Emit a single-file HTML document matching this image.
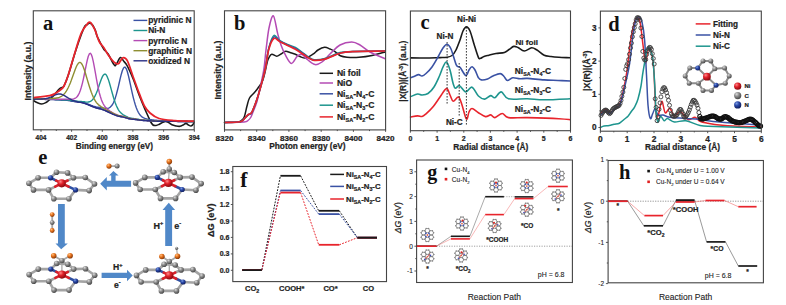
<!DOCTYPE html>
<html><head><meta charset="utf-8">
<style>
html,body{margin:0;padding:0;background:#fff;width:786px;height:305px;overflow:hidden}
svg{display:block}
text{font-family:"Liberation Sans",sans-serif;font-weight:bold;fill:#222;stroke:#222;stroke-width:0.22px}
text.L{font-family:"Liberation Serif",serif;font-weight:bold;fill:#111;font-size:20.5px;stroke:none}
</style></head><body>
<svg width="786" height="305" viewBox="0 0 786 305">
<defs>
<radialGradient id="gG" cx="35%" cy="30%" r="70%"><stop offset="0" stop-color="#dcdcdc"/><stop offset="0.45" stop-color="#8e8e8e"/><stop offset="1" stop-color="#4a4a4a"/></radialGradient>
<radialGradient id="gR" cx="35%" cy="30%" r="70%"><stop offset="0" stop-color="#ff8a8a"/><stop offset="0.45" stop-color="#e0202a"/><stop offset="1" stop-color="#8a0a10"/></radialGradient>
<radialGradient id="gB" cx="35%" cy="30%" r="70%"><stop offset="0" stop-color="#7a9ae0"/><stop offset="0.45" stop-color="#2a48a8"/><stop offset="1" stop-color="#101f60"/></radialGradient>
<radialGradient id="gO" cx="35%" cy="30%" r="70%"><stop offset="0" stop-color="#ffc080"/><stop offset="0.45" stop-color="#e8741e"/><stop offset="1" stop-color="#8a3a08"/></radialGradient>
</defs>
<g fill="none" stroke-width="1.3" stroke-linejoin="round">
<path d="M33.3,100.5 C33.9,100.8 35.6,101.9 37.0,102.5 C38.4,103.1 40.3,104.0 41.8,104.0 C43.3,104.0 44.7,103.2 46.0,102.5 C47.3,101.8 48.1,101.0 49.6,99.6 C51.1,98.2 53.4,95.8 55.0,94.0 C56.6,92.2 58.3,89.9 59.5,88.8 C60.7,87.7 61.2,88.0 62.0,87.5 C62.8,87.0 63.0,88.1 64.0,86.0 C65.0,83.9 66.4,80.8 68.3,75.0 C70.2,69.2 73.4,57.8 75.6,51.0 C77.8,44.2 79.9,38.2 81.5,34.0 C83.1,29.8 84.0,27.6 85.0,26.0 C86.0,24.4 86.5,25.0 87.4,24.5 C88.3,24.0 89.2,22.2 90.4,23.0 C91.6,23.8 93.7,26.8 94.8,29.0 C95.9,31.2 96.3,34.1 97.0,36.0 C97.7,37.9 98.1,38.3 99.2,40.5 C100.3,42.7 102.2,46.8 103.7,49.0 C105.2,51.2 106.4,51.4 108.1,54.0 C109.8,56.6 112.7,62.8 114.0,64.6 C115.3,66.4 114.9,66.0 116.0,64.8 C117.1,63.6 119.1,58.0 120.4,57.5 C121.7,57.0 122.8,60.1 124.0,61.5 C125.2,62.9 125.8,63.1 127.3,66.0 C128.8,68.9 131.2,74.2 133.2,79.0 C135.2,83.8 137.2,90.2 139.1,95.0 C141.0,99.8 142.9,104.5 144.4,108.0 C145.9,111.5 147.0,113.8 148.0,116.0 C149.0,118.2 149.7,120.0 150.5,121.5 C151.3,123.0 152.1,124.3 153.0,125.0 C153.9,125.7 155.0,125.6 156.0,125.5 C157.0,125.4 157.8,125.0 159.0,124.4 C160.2,123.9 161.8,122.7 163.0,122.2 C164.2,121.7 165.3,121.4 166.5,121.6 C167.7,121.8 169.0,122.9 170.0,123.5 C171.0,124.1 171.7,124.7 172.7,125.1 C173.7,125.5 174.8,125.8 176.0,126.0 C177.2,126.2 178.8,126.5 180.0,126.3 C181.2,126.1 182.0,125.5 183.0,125.0 C184.0,124.5 185.1,123.4 186.0,123.4 C186.9,123.4 187.7,124.6 188.5,125.0 C189.3,125.4 190.2,126.1 191.0,126.0 C191.8,125.9 192.5,125.2 193.0,124.5 C193.5,123.8 194.0,122.4 194.2,122.0" stroke="#1a1a1a" stroke-width="1.6"/>
<path d="M33.3,99.3 L34.3,99.3 L35.3,99.3 L36.3,99.3 L37.3,99.3 L38.3,99.4 L39.3,99.4 L40.3,99.4 L41.3,99.4 L42.3,99.4 L43.3,99.4 L44.3,99.4 L45.3,99.5 L46.3,99.5 L47.3,99.5 L48.3,99.5 L49.3,99.5 L50.3,99.5 L51.3,99.5 L52.3,99.6 L53.3,99.6 L54.3,99.6 L55.3,99.7 L56.3,99.7 L57.3,99.8 L58.3,99.8 L59.3,99.9 L60.3,99.9 L61.3,100.0 L62.3,100.0 L63.3,100.1 L64.3,100.1 L65.3,100.1 L66.3,100.2 L67.3,100.3 L68.3,100.5 L69.3,100.6 L70.3,100.8 L71.3,101.0 L72.3,101.2 L73.3,101.4 L74.3,101.5 L75.3,101.7 L76.3,101.9 L77.3,102.1 L78.3,102.2 L79.3,102.3 L80.3,102.4 L81.3,102.6 L82.3,102.8 L83.3,103.0 L84.3,103.3 L85.3,103.7 L86.3,104.0 L87.3,104.4 L88.3,104.8 L89.3,105.3 L90.3,105.7 L91.3,106.1 L92.3,106.5 L93.3,106.9 L94.3,107.3 L95.3,107.6 L96.3,108.0 L97.3,108.2 L98.3,108.5 L99.3,108.7 L100.3,108.9 L101.3,109.2 L102.3,109.5 L103.3,109.8 L104.3,110.2 L105.3,110.6 L106.3,111.1 L107.3,111.5 L108.3,112.0 L109.3,112.5 L110.3,112.9 L111.3,113.4 L112.3,113.8 L113.3,114.3 L114.3,114.7 L115.3,115.1 L116.3,115.5 L117.3,115.8 L118.3,116.1 L119.3,116.4 L120.3,116.5 L121.3,116.7 L122.3,116.9 L123.3,117.1 L124.3,117.4 L125.3,117.7 L126.3,117.9 L127.3,118.2 L128.3,118.5 L129.3,118.7 L130.3,118.9 L131.3,119.1 L132.3,119.2 L133.3,119.3 L134.3,119.4 L135.3,119.5 L136.3,119.6 L137.3,119.7 L138.3,119.9 L139.3,120.0 L140.3,120.1 L141.3,120.3 L142.3,120.4 L143.3,120.5 L144.3,120.6 L145.3,120.6 L146.3,120.6 L147.3,120.7 L148.3,120.7 L149.3,120.8 L150.3,120.8 L151.3,120.9 L152.3,120.9 L153.3,121.0 L154.3,121.1 L155.3,121.1 L156.3,121.2 L157.3,121.2 L158.3,121.2 L159.3,121.3 L160.3,121.3 L161.3,121.3 L162.3,121.3 L163.3,121.3 L164.3,121.3 L165.3,121.3 L166.3,121.3 L167.3,121.3 L168.3,121.4 L169.3,121.4 L170.3,121.4 L171.3,121.4 L172.3,121.4 L173.3,121.4 L174.3,121.4 L175.3,121.4 L176.3,121.4 L177.3,121.5 L178.3,121.5 L179.3,121.5 L180.3,121.5 L181.3,121.5 L182.3,121.5 L183.3,121.5 L184.3,121.5 L185.3,121.5 L186.3,121.5 L187.3,121.6 L188.3,121.6 L189.3,121.6 L190.3,121.6 L191.3,121.6 L192.3,121.6 L193.3,121.6 L194.2,121.6" stroke="#2b2f85" stroke-width="1.4"/>
<path d="M33.3,99.2 L34.3,99.2 L35.3,99.2 L36.3,99.2 L37.3,99.2 L38.3,99.2 L39.3,99.2 L40.3,99.3 L41.3,99.3 L42.3,99.3 L43.3,99.3 L44.3,99.3 L45.3,99.3 L46.3,99.3 L47.3,99.3 L48.3,99.3 L49.3,99.3 L50.3,99.4 L51.3,99.4 L52.3,99.4 L53.3,99.4 L54.3,99.5 L55.3,99.5 L56.3,99.6 L57.3,99.6 L58.3,99.6 L59.3,99.7 L60.3,99.7 L61.3,99.8 L62.3,99.8 L63.3,99.8 L64.3,99.9 L65.3,99.9 L66.3,100.0 L67.3,100.1 L68.3,100.2 L69.3,100.4 L70.3,100.5 L71.3,100.7 L72.3,100.9 L73.3,101.0 L74.3,101.2 L75.3,101.4 L76.3,101.5 L77.3,101.7 L78.3,101.8 L79.3,101.9 L80.3,102.0 L81.3,102.1 L82.3,102.3 L83.3,102.5 L84.3,102.8 L85.3,103.1 L86.3,103.5 L87.3,103.8 L88.3,104.2 L89.3,104.6 L90.3,105.0 L91.3,105.4 L92.3,105.7 L93.3,106.1 L94.3,106.4 L95.3,106.7 L96.3,107.0 L97.3,107.2 L98.3,107.3 L99.3,107.4 L100.3,107.6 L101.3,107.7 L102.3,107.9 L103.3,108.1 L104.3,108.2 L105.3,108.4 L106.3,108.4 L107.3,108.4 L108.3,108.2 L109.3,107.8 L110.3,107.1 L111.3,106.1 L112.3,104.8 L113.3,103.0 L114.3,100.7 L115.3,97.9 L116.3,94.6 L117.3,90.8 L118.3,86.8 L119.3,82.5 L120.3,78.2 L121.3,74.2 L122.3,70.8 L123.3,68.4 L124.3,67.1 L125.3,67.3 L126.3,68.8 L127.3,71.5 L128.3,75.2 L129.3,79.5 L130.3,84.2 L131.3,88.9 L132.3,93.4 L133.3,97.6 L134.3,101.4 L135.3,104.8 L136.3,107.8 L137.3,110.2 L138.3,112.3 L139.3,113.9 L140.3,115.3 L141.3,116.3 L142.3,117.1 L143.3,117.7 L144.3,118.2 L145.3,118.6 L146.3,118.8 L147.3,119.1 L148.3,119.3 L149.3,119.4 L150.3,119.6 L151.3,119.7 L152.3,119.9 L153.3,120.0 L154.3,120.1 L155.3,120.2 L156.3,120.3 L157.3,120.4 L158.3,120.5 L159.3,120.6 L160.3,120.6 L161.3,120.7 L162.3,120.7 L163.3,120.8 L164.3,120.8 L165.3,120.8 L166.3,120.9 L167.3,120.9 L168.3,120.9 L169.3,120.9 L170.3,121.0 L171.3,121.0 L172.3,121.0 L173.3,121.1 L174.3,121.1 L175.3,121.1 L176.3,121.1 L177.3,121.1 L178.3,121.2 L179.3,121.2 L180.3,121.2 L181.3,121.2 L182.3,121.2 L183.3,121.3 L184.3,121.3 L185.3,121.3 L186.3,121.3 L187.3,121.3 L188.3,121.4 L189.3,121.4 L190.3,121.4 L191.3,121.4 L192.3,121.4 L193.3,121.4 L194.2,121.4" stroke="#3a52a4" stroke-width="1.4"/>
<path d="M33.3,99.2 L34.3,99.2 L35.3,99.2 L36.3,99.2 L37.3,99.2 L38.3,99.2 L39.3,99.2 L40.3,99.2 L41.3,99.2 L42.3,99.2 L43.3,99.3 L44.3,99.3 L45.3,99.3 L46.3,99.3 L47.3,99.3 L48.3,99.3 L49.3,99.3 L50.3,99.3 L51.3,99.3 L52.3,99.3 L53.3,99.4 L54.3,99.4 L55.3,99.4 L56.3,99.5 L57.3,99.5 L58.3,99.5 L59.3,99.6 L60.3,99.6 L61.3,99.6 L62.3,99.7 L63.3,99.7 L64.3,99.7 L65.3,99.7 L66.3,99.8 L67.3,99.9 L68.3,100.0 L69.3,100.1 L70.3,100.3 L71.3,100.4 L72.3,100.6 L73.3,100.7 L74.3,100.9 L75.3,101.0 L76.3,101.2 L77.3,101.3 L78.3,101.4 L79.3,101.4 L80.3,101.5 L81.3,101.5 L82.3,101.6 L83.3,101.7 L84.3,101.8 L85.3,102.0 L86.3,102.1 L87.3,102.1 L88.3,102.0 L89.3,101.8 L90.3,101.4 L91.3,100.8 L92.3,100.0 L93.3,98.8 L94.3,97.3 L95.3,95.4 L96.3,93.2 L97.3,90.7 L98.3,87.9 L99.3,84.9 L100.3,82.0 L101.3,79.2 L102.3,76.9 L103.3,75.2 L104.3,74.2 L105.3,74.1 L106.3,75.0 L107.3,76.9 L108.3,79.4 L109.3,82.5 L110.3,86.0 L111.3,89.6 L112.3,93.2 L113.3,96.7 L114.3,100.0 L115.3,102.9 L116.3,105.5 L117.3,107.7 L118.3,109.6 L119.3,111.1 L120.3,112.3 L121.3,113.2 L122.3,114.1 L123.3,114.8 L124.3,115.4 L125.3,116.0 L126.3,116.5 L127.3,116.9 L128.3,117.3 L129.3,117.6 L130.3,118.0 L131.3,118.2 L132.3,118.4 L133.3,118.5 L134.3,118.6 L135.3,118.8 L136.3,119.0 L137.3,119.1 L138.3,119.3 L139.3,119.5 L140.3,119.6 L141.3,119.8 L142.3,119.9 L143.3,120.0 L144.3,120.1 L145.3,120.2 L146.3,120.3 L147.3,120.3 L148.3,120.4 L149.3,120.4 L150.3,120.5 L151.3,120.6 L152.3,120.6 L153.3,120.7 L154.3,120.8 L155.3,120.9 L156.3,120.9 L157.3,121.0 L158.3,121.0 L159.3,121.1 L160.3,121.1 L161.3,121.1 L162.3,121.1 L163.3,121.1 L164.3,121.1 L165.3,121.2 L166.3,121.2 L167.3,121.2 L168.3,121.2 L169.3,121.2 L170.3,121.2 L171.3,121.2 L172.3,121.3 L173.3,121.3 L174.3,121.3 L175.3,121.3 L176.3,121.3 L177.3,121.3 L178.3,121.3 L179.3,121.4 L180.3,121.4 L181.3,121.4 L182.3,121.4 L183.3,121.4 L184.3,121.4 L185.3,121.4 L186.3,121.4 L187.3,121.5 L188.3,121.5 L189.3,121.5 L190.3,121.5 L191.3,121.5 L192.3,121.5 L193.3,121.5 L194.2,121.5" stroke="#1e958e" stroke-width="1.4"/>
<path d="M33.3,99.1 L34.3,99.1 L35.3,99.1 L36.3,99.1 L37.3,99.1 L38.3,99.1 L39.3,99.1 L40.3,99.1 L41.3,99.1 L42.3,99.1 L43.3,99.1 L44.3,99.1 L45.3,99.1 L46.3,99.1 L47.3,99.1 L48.3,99.1 L49.3,99.1 L50.3,99.1 L51.3,99.1 L52.3,99.1 L53.3,99.1 L54.3,99.1 L55.3,99.2 L56.3,99.2 L57.3,99.2 L58.3,99.2 L59.3,99.2 L60.3,99.2 L61.3,99.2 L62.3,99.2 L63.3,99.2 L64.3,99.1 L65.3,99.1 L66.3,99.1 L67.3,99.1 L68.3,99.2 L69.3,99.2 L70.3,99.2 L71.3,99.2 L72.3,99.1 L73.3,99.0 L74.3,98.7 L75.3,98.2 L76.3,97.5 L77.3,96.5 L78.3,95.0 L79.3,93.1 L80.3,90.5 L81.3,87.3 L82.3,83.6 L83.3,79.3 L84.3,74.5 L85.3,69.5 L86.3,64.6 L87.3,60.0 L88.3,56.3 L89.3,53.9 L90.3,53.2 L91.3,54.4 L92.3,57.3 L93.3,61.6 L94.3,66.8 L95.3,72.4 L96.3,78.1 L97.3,83.5 L98.3,88.4 L99.3,92.7 L100.3,96.3 L101.3,99.4 L102.3,101.9 L103.3,104.0 L104.3,105.6 L105.3,107.0 L106.3,108.1 L107.3,109.1 L108.3,109.9 L109.3,110.6 L110.3,111.3 L111.3,111.9 L112.3,112.5 L113.3,113.1 L114.3,113.6 L115.3,114.1 L116.3,114.5 L117.3,114.9 L118.3,115.3 L119.3,115.6 L120.3,115.8 L121.3,116.0 L122.3,116.2 L123.3,116.5 L124.3,116.8 L125.3,117.1 L126.3,117.4 L127.3,117.7 L128.3,118.0 L129.3,118.3 L130.3,118.5 L131.3,118.7 L132.3,118.8 L133.3,118.9 L134.3,119.0 L135.3,119.2 L136.3,119.3 L137.3,119.4 L138.3,119.6 L139.3,119.7 L140.3,119.9 L141.3,120.0 L142.3,120.1 L143.3,120.2 L144.3,120.3 L145.3,120.4 L146.3,120.4 L147.3,120.5 L148.3,120.5 L149.3,120.6 L150.3,120.6 L151.3,120.7 L152.3,120.8 L153.3,120.8 L154.3,120.9 L155.3,120.9 L156.3,121.0 L157.3,121.1 L158.3,121.1 L159.3,121.1 L160.3,121.2 L161.3,121.2 L162.3,121.2 L163.3,121.2 L164.3,121.2 L165.3,121.2 L166.3,121.2 L167.3,121.2 L168.3,121.2 L169.3,121.3 L170.3,121.3 L171.3,121.3 L172.3,121.3 L173.3,121.3 L174.3,121.3 L175.3,121.3 L176.3,121.3 L177.3,121.4 L178.3,121.4 L179.3,121.4 L180.3,121.4 L181.3,121.4 L182.3,121.4 L183.3,121.4 L184.3,121.4 L185.3,121.5 L186.3,121.5 L187.3,121.5 L188.3,121.5 L189.3,121.5 L190.3,121.5 L191.3,121.5 L192.3,121.5 L193.3,121.5 L194.2,121.5" stroke="#b44bb4" stroke-width="1.4"/>
<path d="M33.3,98.9 L34.3,98.9 L35.3,98.9 L36.3,98.8 L37.3,98.8 L38.3,98.8 L39.3,98.8 L40.3,98.8 L41.3,98.8 L42.3,98.8 L43.3,98.8 L44.3,98.7 L45.3,98.7 L46.3,98.7 L47.3,98.6 L48.3,98.6 L49.3,98.5 L50.3,98.5 L51.3,98.4 L52.3,98.4 L53.3,98.3 L54.3,98.3 L55.3,98.2 L56.3,98.0 L57.3,97.9 L58.3,97.6 L59.3,97.3 L60.3,96.9 L61.3,96.4 L62.3,95.7 L63.3,94.9 L64.3,93.8 L65.3,92.6 L66.3,91.1 L67.3,89.4 L68.3,87.5 L69.3,85.3 L70.3,82.9 L71.3,80.3 L72.3,77.5 L73.3,74.7 L74.3,71.9 L75.3,69.2 L76.3,66.8 L77.3,64.8 L78.3,63.3 L79.3,62.5 L80.3,62.5 L81.3,63.2 L82.3,64.8 L83.3,67.0 L84.3,69.7 L85.3,72.8 L86.3,76.2 L87.3,79.6 L88.3,83.0 L89.3,86.2 L90.3,89.3 L91.3,92.2 L92.3,94.8 L93.3,97.1 L94.3,99.1 L95.3,100.9 L96.3,102.4 L97.3,103.6 L98.3,104.6 L99.3,105.4 L100.3,106.1 L101.3,106.8 L102.3,107.4 L103.3,108.0 L104.3,108.6 L105.3,109.2 L106.3,109.8 L107.3,110.3 L108.3,110.9 L109.3,111.4 L110.3,112.0 L111.3,112.5 L112.3,113.0 L113.3,113.5 L114.3,113.9 L115.3,114.4 L116.3,114.8 L117.3,115.2 L118.3,115.5 L119.3,115.8 L120.3,116.0 L121.3,116.2 L122.3,116.4 L123.3,116.6 L124.3,116.9 L125.3,117.2 L126.3,117.5 L127.3,117.8 L128.3,118.1 L129.3,118.3 L130.3,118.6 L131.3,118.8 L132.3,118.9 L133.3,119.0 L134.3,119.1 L135.3,119.2 L136.3,119.3 L137.3,119.5 L138.3,119.6 L139.3,119.7 L140.3,119.9 L141.3,120.0 L142.3,120.1 L143.3,120.2 L144.3,120.3 L145.3,120.4 L146.3,120.4 L147.3,120.5 L148.3,120.5 L149.3,120.6 L150.3,120.6 L151.3,120.7 L152.3,120.8 L153.3,120.8 L154.3,120.9 L155.3,120.9 L156.3,121.0 L157.3,121.0 L158.3,121.1 L159.3,121.1 L160.3,121.2 L161.3,121.2 L162.3,121.2 L163.3,121.2 L164.3,121.2 L165.3,121.2 L166.3,121.2 L167.3,121.2 L168.3,121.2 L169.3,121.2 L170.3,121.3 L171.3,121.3 L172.3,121.3 L173.3,121.3 L174.3,121.3 L175.3,121.3 L176.3,121.3 L177.3,121.4 L178.3,121.4 L179.3,121.4 L180.3,121.4 L181.3,121.4 L182.3,121.4 L183.3,121.4 L184.3,121.4 L185.3,121.4 L186.3,121.5 L187.3,121.5 L188.3,121.5 L189.3,121.5 L190.3,121.5 L191.3,121.5 L192.3,121.5 L193.3,121.5 L194.2,121.5" stroke="#8f8f32" stroke-width="1.4"/>
<path d="M33.3,99.2 L34.3,99.2 L35.3,99.1 L36.3,99.1 L37.3,99.1 L38.3,99.1 L39.3,99.1 L40.3,99.1 L41.3,99.0 L42.3,99.0 L43.3,98.9 L44.3,98.8 L45.3,98.7 L46.3,98.5 L47.3,98.2 L48.3,98.0 L49.3,97.6 L50.3,97.2 L51.3,96.8 L52.3,96.3 L53.3,95.9 L54.3,95.4 L55.3,94.9 L56.3,94.5 L57.3,94.2 L58.3,94.0 L59.3,93.9 L60.3,94.0 L61.3,94.2 L62.3,94.6 L63.3,95.1 L64.3,95.6 L65.3,96.2 L66.3,96.8 L67.3,97.4 L68.3,98.0 L69.3,98.6 L70.3,99.1 L71.3,99.6 L72.3,100.1 L73.3,100.5 L74.3,100.8 L75.3,101.2 L76.3,101.4 L77.3,101.7 L78.3,101.9 L79.3,102.1 L80.3,102.2 L81.3,102.3 L82.3,102.6 L83.3,102.9 L84.3,103.2 L85.3,103.5 L86.3,103.9 L87.3,104.3 L88.3,104.7 L89.3,105.1 L90.3,105.6 L91.3,106.0 L92.3,106.4 L93.3,106.8 L94.3,107.2 L95.3,107.6 L96.3,107.9 L97.3,108.2 L98.3,108.4 L99.3,108.6 L100.3,108.8 L101.3,109.1 L102.3,109.4 L103.3,109.8 L104.3,110.2 L105.3,110.6 L106.3,111.0 L107.3,111.5 L108.3,111.9 L109.3,112.4 L110.3,112.9 L111.3,113.4 L112.3,113.8 L113.3,114.3 L114.3,114.7 L115.3,115.1 L116.3,115.4 L117.3,115.8 L118.3,116.1 L119.3,116.3 L120.3,116.5 L121.3,116.7 L122.3,116.9 L123.3,117.1 L124.3,117.4 L125.3,117.6 L126.3,117.9 L127.3,118.2 L128.3,118.5 L129.3,118.7 L130.3,118.9 L131.3,119.1 L132.3,119.2 L133.3,119.3 L134.3,119.4 L135.3,119.5 L136.3,119.6 L137.3,119.7 L138.3,119.9 L139.3,120.0 L140.3,120.1 L141.3,120.2 L142.3,120.4 L143.3,120.5 L144.3,120.5 L145.3,120.6 L146.3,120.6 L147.3,120.7 L148.3,120.7 L149.3,120.8 L150.3,120.8 L151.3,120.9 L152.3,120.9 L153.3,121.0 L154.3,121.0 L155.3,121.1 L156.3,121.1 L157.3,121.2 L158.3,121.2 L159.3,121.3 L160.3,121.3 L161.3,121.3 L162.3,121.3 L163.3,121.3 L164.3,121.3 L165.3,121.3 L166.3,121.3 L167.3,121.3 L168.3,121.3 L169.3,121.4 L170.3,121.4 L171.3,121.4 L172.3,121.4 L173.3,121.4 L174.3,121.4 L175.3,121.4 L176.3,121.4 L177.3,121.4 L178.3,121.5 L179.3,121.5 L180.3,121.5 L181.3,121.5 L182.3,121.5 L183.3,121.5 L184.3,121.5 L185.3,121.5 L186.3,121.5 L187.3,121.5 L188.3,121.6 L189.3,121.6 L190.3,121.6 L191.3,121.6 L192.3,121.6 L193.3,121.6 L194.2,121.6" stroke="#2b2f85" stroke-width="1.4"/>
<path d="M33.3,97.6 C36.0,97.3 46.0,96.3 49.6,95.6 C53.2,94.9 53.1,94.5 55.0,93.5 C56.9,92.5 59.4,90.8 60.9,89.5 C62.4,88.2 62.8,88.4 64.0,86.0 C65.2,83.6 66.4,80.9 68.3,75.0 C70.2,69.1 73.4,57.4 75.6,50.4 C77.8,43.4 79.5,37.1 81.5,32.7 C83.5,28.3 85.9,25.5 87.4,23.8 C88.9,22.1 89.2,21.4 90.4,22.4 C91.6,23.4 93.3,26.5 94.8,29.7 C96.3,32.9 97.7,38.5 99.2,41.5 C100.7,44.5 102.2,45.2 103.7,47.4 C105.2,49.6 106.4,52.3 108.1,54.8 C109.8,57.3 112.3,60.7 114.0,62.2 C115.7,63.7 116.9,64.4 118.4,63.7 C119.9,63.0 121.3,58.3 122.8,57.8 C124.3,57.3 125.6,57.5 127.3,60.7 C129.0,63.9 131.2,71.6 133.2,77.0 C135.2,82.4 137.2,88.4 139.1,93.2 C141.0,98.0 142.6,102.7 144.4,106.0 C146.2,109.3 147.6,110.9 150.0,113.0 C152.4,115.1 154.9,117.2 159.1,118.5 C163.3,119.8 169.2,120.1 175.0,120.6 C180.8,121.0 191.0,121.1 194.2,121.2" stroke="#e8242c" stroke-width="1.8"/>
</g>
<rect x="33.3" y="10.8" width="160.9" height="119.0" fill="none" stroke="#444" stroke-width="1.1"/>
<line x1="194.3" y1="129.8" x2="194.3" y2="131.8" stroke="#444" stroke-width="0.9"/>
<text x="194.3" y="140.2" style="font-size:6.50px;font-weight:bold" text-anchor="middle" fill="#222" >394</text>
<line x1="178.9" y1="129.8" x2="178.9" y2="131.0" stroke="#444" stroke-width="0.9"/>
<line x1="163.6" y1="129.8" x2="163.6" y2="131.8" stroke="#444" stroke-width="0.9"/>
<text x="163.6" y="140.2" style="font-size:6.50px;font-weight:bold" text-anchor="middle" fill="#222" >396</text>
<line x1="148.3" y1="129.8" x2="148.3" y2="131.0" stroke="#444" stroke-width="0.9"/>
<line x1="132.9" y1="129.8" x2="132.9" y2="131.8" stroke="#444" stroke-width="0.9"/>
<text x="132.9" y="140.2" style="font-size:6.50px;font-weight:bold" text-anchor="middle" fill="#222" >398</text>
<line x1="117.6" y1="129.8" x2="117.6" y2="131.0" stroke="#444" stroke-width="0.9"/>
<line x1="102.3" y1="129.8" x2="102.3" y2="131.8" stroke="#444" stroke-width="0.9"/>
<text x="102.3" y="140.2" style="font-size:6.50px;font-weight:bold" text-anchor="middle" fill="#222" >400</text>
<line x1="87.0" y1="129.8" x2="87.0" y2="131.0" stroke="#444" stroke-width="0.9"/>
<line x1="71.6" y1="129.8" x2="71.6" y2="131.8" stroke="#444" stroke-width="0.9"/>
<text x="71.6" y="140.2" style="font-size:6.50px;font-weight:bold" text-anchor="middle" fill="#222" >402</text>
<line x1="56.3" y1="129.8" x2="56.3" y2="131.0" stroke="#444" stroke-width="0.9"/>
<line x1="41.0" y1="129.8" x2="41.0" y2="131.8" stroke="#444" stroke-width="0.9"/>
<text x="41.0" y="140.2" style="font-size:6.50px;font-weight:bold" text-anchor="middle" fill="#222" >404</text>
<text x="114.4" y="149.1" style="font-size:8.20px;font-weight:bold" text-anchor="middle" fill="#222" >Binding energy (eV)</text>
<text x="0" y="0" font-size="8.7" text-anchor="middle" transform="translate(30.6,71.1) rotate(-90)">Intensity (a.u.)</text>
<text class="L" x="43" y="30">a</text>
<line x1="133.5" y1="20.4" x2="147.3" y2="20.4" stroke="#3a52a4" stroke-width="1.4"/>
<text x="148.2" y="23.3" style="font-size:8.40px;font-weight:bold" text-anchor="start" fill="#222" >pyridinic N</text>
<line x1="133.5" y1="30.5" x2="147.3" y2="30.5" stroke="#1e958e" stroke-width="1.4"/>
<text x="148.2" y="33.4" style="font-size:8.40px;font-weight:bold" text-anchor="start" fill="#222" >Ni-N</text>
<line x1="133.5" y1="40.6" x2="147.3" y2="40.6" stroke="#b44bb4" stroke-width="1.4"/>
<text x="148.2" y="43.5" style="font-size:8.40px;font-weight:bold" text-anchor="start" fill="#222" >pyrrolic N</text>
<line x1="133.5" y1="50.7" x2="147.3" y2="50.7" stroke="#8f8f32" stroke-width="1.4"/>
<text x="148.2" y="53.6" style="font-size:8.40px;font-weight:bold" text-anchor="start" fill="#222" >graphitic N</text>
<line x1="133.5" y1="60.8" x2="147.3" y2="60.8" stroke="#2b2f85" stroke-width="1.4"/>
<text x="148.2" y="63.7" style="font-size:8.40px;font-weight:bold" text-anchor="start" fill="#222" >oxidized N</text>
<g fill="none" stroke-linejoin="round" stroke-linecap="round">
<path d="M224.6,122.5 C226.5,122.5 233.4,122.5 236.0,122.3 C238.6,122.1 238.8,122.0 240.0,121.5 C241.2,121.0 242.2,119.9 243.0,119.0 C243.8,118.1 243.9,118.2 244.6,116.0 C245.3,113.8 246.2,109.0 247.0,106.0 C247.8,103.0 248.3,100.2 249.5,98.0 C250.7,95.8 252.6,94.7 254.0,93.0 C255.4,91.3 256.6,90.0 258.0,88.0 C259.4,86.0 261.2,84.0 262.5,81.0 C263.8,78.0 264.7,73.3 265.5,70.0 C266.3,66.7 266.9,63.1 267.5,61.0 C268.1,58.9 268.3,58.6 269.0,57.5 C269.7,56.4 270.5,54.4 271.8,54.2 C273.1,54.0 275.2,56.2 276.7,56.2 C278.2,56.2 279.5,54.8 281.0,54.0 C282.5,53.2 284.0,51.5 285.5,51.3 C287.0,51.0 288.4,52.0 290.0,52.5 C291.6,53.0 293.7,53.5 295.4,54.2 C297.1,54.9 298.3,55.9 300.0,56.5 C301.7,57.1 303.5,58.4 305.7,58.0 C307.9,57.6 310.9,55.5 313.0,54.2 C315.1,52.9 316.1,51.2 318.0,50.0 C319.9,48.8 322.6,47.4 324.6,47.2 C326.6,47.0 328.3,48.3 330.0,49.0 C331.7,49.7 333.0,50.2 334.7,51.3 C336.4,52.4 338.2,54.8 340.3,55.8 C342.4,56.8 343.9,57.0 347.0,57.2 C350.1,57.5 354.8,57.6 359.0,57.3 C363.2,57.0 367.6,56.4 372.0,55.5 C376.4,54.6 383.0,52.6 385.2,52.0" stroke="#1a1a1a" stroke-width="1.5"/>
<path d="M224.6,122.5 C227.8,122.4 240.1,122.3 244.0,122.0 C247.9,121.7 246.8,121.3 248.0,120.5 C249.2,119.7 250.2,118.4 251.0,117.0 C251.8,115.6 252.0,114.5 253.0,112.0 C254.0,109.5 255.7,105.8 256.9,101.8 C258.1,97.8 258.8,93.5 260.0,88.0 C261.2,82.5 262.9,75.3 263.9,69.0 C264.9,62.7 265.1,56.8 266.0,50.0 C266.9,43.2 267.8,33.7 269.0,28.0 C270.2,22.3 271.9,15.0 273.4,15.9 C274.8,16.8 276.4,28.8 277.7,33.6 C279.0,38.5 279.7,41.4 281.0,45.0 C282.3,48.6 283.8,52.1 285.5,55.2 C287.2,58.3 289.4,63.2 291.4,63.4 C293.4,63.6 295.5,57.7 297.3,56.2 C299.1,54.7 300.2,53.9 302.0,54.5 C303.8,55.1 305.8,58.3 308.0,60.0 C310.2,61.7 312.9,64.3 315.2,64.6 C317.5,64.9 319.5,63.8 322.0,62.0 C324.5,60.2 327.0,56.8 330.0,54.0 C333.0,51.2 336.4,47.0 340.0,45.0 C343.6,43.0 348.5,42.0 351.8,42.0 C355.1,42.0 357.0,43.3 360.0,45.0 C363.0,46.7 365.8,49.7 370.0,52.0 C374.2,54.3 382.7,57.6 385.2,58.7" stroke="#b44bb4" stroke-width="1.5"/>
<path d="M224.6,122.5 C226.8,122.4 235.1,122.2 238.0,122.0 C240.9,121.8 240.8,121.8 242.0,121.0 C243.2,120.2 244.4,118.5 245.5,117.5 C246.6,116.5 247.3,115.5 248.3,114.8 C249.3,114.0 250.5,114.5 251.5,113.0 C252.5,111.5 253.4,108.8 254.5,106.0 C255.6,103.2 256.8,100.0 258.0,96.0 C259.2,92.0 260.8,86.7 262.0,82.0 C263.2,77.3 264.4,73.7 265.5,68.0 C266.6,62.3 267.4,53.4 268.8,48.0 C270.2,42.6 272.0,36.8 273.8,35.5 C275.6,34.2 277.3,39.0 279.6,40.5 C281.9,42.0 284.9,43.4 287.5,44.5 C290.1,45.6 292.8,45.9 295.4,47.3 C298.0,48.7 300.3,51.0 303.2,53.0 C306.1,55.0 309.4,58.6 313.0,59.5 C316.6,60.4 320.3,59.7 324.8,58.5 C329.3,57.3 335.3,53.6 340.0,52.5 C344.7,51.4 345.4,51.9 352.9,51.6 C360.4,51.4 379.8,51.1 385.2,51.0" stroke="#1e958e" stroke-width="1.5"/>
<path d="M224.6,122.5 C226.8,122.4 235.1,122.2 238.0,122.0 C240.9,121.8 240.8,121.8 242.0,121.0 C243.2,120.2 244.4,118.5 245.5,117.5 C246.6,116.5 247.3,115.5 248.3,114.8 C249.3,114.0 250.5,114.5 251.5,113.0 C252.5,111.5 253.4,108.8 254.5,106.0 C255.6,103.2 256.8,100.0 258.0,96.0 C259.2,92.0 260.8,86.7 262.0,82.0 C263.2,77.3 264.4,73.6 265.5,68.0 C266.6,62.4 267.4,53.7 268.8,48.5 C270.2,43.3 272.0,38.2 273.8,37.0 C275.6,35.8 277.3,39.7 279.6,41.0 C281.9,42.3 284.9,43.8 287.5,45.0 C290.1,46.2 292.8,46.9 295.4,48.3 C298.0,49.7 300.3,51.5 303.2,53.5 C306.1,55.5 309.4,59.1 313.0,60.0 C316.6,60.9 320.3,60.2 324.8,59.0 C329.3,57.8 335.3,54.2 340.0,53.0 C344.7,51.8 345.4,51.9 352.9,51.6 C360.4,51.3 379.8,51.1 385.2,51.0" stroke="#3a52a4" stroke-width="1.5"/>
<path d="M224.6,122.5 C226.8,122.4 235.1,122.2 238.0,122.0 C240.9,121.8 240.8,121.8 242.0,121.0 C243.2,120.2 244.4,118.6 245.5,117.5 C246.6,116.4 247.3,115.3 248.3,114.5 C249.3,113.7 250.5,114.2 251.5,112.8 C252.5,111.4 253.4,108.8 254.5,106.0 C255.6,103.2 256.8,100.0 258.0,96.0 C259.2,92.0 260.8,86.7 262.0,82.0 C263.2,77.3 264.4,73.5 265.5,68.0 C266.6,62.5 267.4,54.2 268.8,49.3 C270.2,44.4 272.0,39.8 273.8,38.5 C275.6,37.2 277.3,40.2 279.6,41.4 C281.9,42.5 284.9,44.1 287.5,45.4 C290.1,46.7 292.8,47.8 295.4,49.3 C298.0,50.8 300.3,52.4 303.2,54.2 C306.1,56.0 309.4,59.3 313.0,60.1 C316.6,60.9 320.3,60.2 324.8,59.1 C329.3,58.0 335.3,54.5 340.0,53.2 C344.7,52.0 345.4,52.0 352.9,51.6 C360.4,51.2 379.8,51.1 385.2,51.0" stroke="#e8242c" stroke-width="1.7"/>
</g>
<rect x="224.5" y="10.8" width="161.1" height="119.1" fill="none" stroke="#444" stroke-width="1.1"/>
<line x1="224.5" y1="129.9" x2="224.5" y2="131.9" stroke="#444" stroke-width="0.9"/>
<text x="224.5" y="140.6" style="font-size:8.10px;font-weight:bold" text-anchor="middle" fill="#222" >8320</text>
<line x1="240.6" y1="129.9" x2="240.6" y2="131.1" stroke="#444" stroke-width="0.9"/>
<line x1="256.7" y1="129.9" x2="256.7" y2="131.9" stroke="#444" stroke-width="0.9"/>
<text x="256.7" y="140.6" style="font-size:8.10px;font-weight:bold" text-anchor="middle" fill="#222" >8340</text>
<line x1="272.8" y1="129.9" x2="272.8" y2="131.1" stroke="#444" stroke-width="0.9"/>
<line x1="288.9" y1="129.9" x2="288.9" y2="131.9" stroke="#444" stroke-width="0.9"/>
<text x="288.9" y="140.6" style="font-size:8.10px;font-weight:bold" text-anchor="middle" fill="#222" >8360</text>
<line x1="305.1" y1="129.9" x2="305.1" y2="131.1" stroke="#444" stroke-width="0.9"/>
<line x1="321.2" y1="129.9" x2="321.2" y2="131.9" stroke="#444" stroke-width="0.9"/>
<text x="321.2" y="140.6" style="font-size:8.10px;font-weight:bold" text-anchor="middle" fill="#222" >8380</text>
<line x1="337.3" y1="129.9" x2="337.3" y2="131.1" stroke="#444" stroke-width="0.9"/>
<line x1="353.4" y1="129.9" x2="353.4" y2="131.9" stroke="#444" stroke-width="0.9"/>
<text x="353.4" y="140.6" style="font-size:8.10px;font-weight:bold" text-anchor="middle" fill="#222" >8400</text>
<line x1="369.5" y1="129.9" x2="369.5" y2="131.1" stroke="#444" stroke-width="0.9"/>
<line x1="385.6" y1="129.9" x2="385.6" y2="131.9" stroke="#444" stroke-width="0.9"/>
<text x="385.6" y="140.6" style="font-size:8.10px;font-weight:bold" text-anchor="middle" fill="#222" >8420</text>
<text x="307.4" y="148.9" style="font-size:8.35px;font-weight:bold" text-anchor="middle" fill="#222" >Photon energy (eV)</text>
<text x="0" y="0" font-size="8.7" text-anchor="middle" transform="translate(220.6,70) rotate(-90)">Intensity (a.u.)</text>
<text class="L" x="234" y="30">b</text>
<line x1="319.6" y1="73.3" x2="333" y2="73.3" stroke="#1a1a1a" stroke-width="1.5"/>
<text x="336.9" y="76.3" style="font-size:8.60px;font-weight:bold" text-anchor="start" fill="#222" >Ni foil</text>
<line x1="319.6" y1="83.0" x2="333" y2="83.0" stroke="#b44bb4" stroke-width="1.5"/>
<text x="336.9" y="86.0" style="font-size:8.60px;font-weight:bold" text-anchor="start" fill="#222" >NiO</text>
<line x1="319.6" y1="93.8" x2="333" y2="93.8" stroke="#3a52a4" stroke-width="1.5"/>
<text x="336.9" y="96.8" style="font-size:8.60px;font-weight:bold" text-anchor="start" fill="#222" >Ni<tspan font-size="5.5" dy="2">SA</tspan><tspan dy="-2">-N</tspan><tspan font-size="5.5" dy="2">4</tspan><tspan dy="-2">-C</tspan></text>
<line x1="319.6" y1="105.2" x2="333" y2="105.2" stroke="#1e958e" stroke-width="1.5"/>
<text x="336.9" y="108.2" style="font-size:8.60px;font-weight:bold" text-anchor="start" fill="#222" >Ni<tspan font-size="5.5" dy="2">SA</tspan><tspan dy="-2">-N</tspan><tspan font-size="5.5" dy="2">3</tspan><tspan dy="-2">-C</tspan></text>
<line x1="319.6" y1="116.9" x2="333" y2="116.9" stroke="#e8242c" stroke-width="1.5"/>
<text x="336.9" y="119.9" style="font-size:8.60px;font-weight:bold" text-anchor="start" fill="#222" >Ni<tspan font-size="5.5" dy="2">SA</tspan><tspan dy="-2">-N</tspan><tspan font-size="5.5" dy="2">2</tspan><tspan dy="-2">-C</tspan></text>
<g fill="none" stroke-linejoin="round" stroke-linecap="round">
<path d="M410.6,57.9 C413.0,57.9 420.1,58.0 425.0,58.0 C429.9,58.0 436.3,57.7 440.0,57.6 C443.7,57.5 445.0,57.6 447.0,57.2 C449.0,56.9 450.5,56.7 452.0,55.5 C453.5,54.3 454.7,52.6 456.0,50.0 C457.3,47.4 458.8,43.2 460.0,40.0 C461.2,36.8 461.9,33.2 463.0,31.0 C464.1,28.8 465.2,26.9 466.4,26.9 C467.6,26.9 468.7,28.1 470.0,31.0 C471.3,33.9 472.6,39.6 474.0,44.0 C475.4,48.4 477.3,54.9 478.4,57.3 C479.5,59.7 479.6,58.4 480.5,58.3 C481.4,58.2 482.6,57.0 484.0,56.5 C485.4,56.0 486.9,55.7 488.9,55.2 C490.9,54.7 493.4,54.0 496.0,53.5 C498.6,53.0 502.2,53.1 504.4,52.4 C506.6,51.7 507.4,50.5 509.0,49.5 C510.6,48.5 512.3,46.7 513.8,46.4 C515.3,46.1 516.2,46.7 518.0,47.5 C519.8,48.3 522.0,51.0 524.3,51.0 C526.6,51.0 529.5,48.0 531.6,47.8 C533.7,47.6 534.9,48.8 537.0,50.0 C539.1,51.2 541.9,54.1 544.2,55.2 C546.5,56.3 548.5,56.1 551.0,56.5 C553.5,56.9 555.7,57.1 558.9,57.3 C562.1,57.5 568.3,57.6 570.2,57.7" stroke="#1a1a1a" stroke-width="1.6"/>
<path d="M410.6,77.7 C411.2,77.5 412.7,77.0 414.0,76.5 C415.3,76.0 417.3,74.7 418.6,74.6 C419.9,74.5 420.8,76.2 422.0,76.0 C423.2,75.8 424.3,75.0 426.0,73.5 C427.7,72.0 430.0,69.8 432.0,67.0 C434.0,64.2 436.2,60.2 438.0,57.0 C439.8,53.8 441.5,50.1 443.0,48.0 C444.5,45.9 445.7,44.0 447.0,44.2 C448.3,44.4 449.4,45.5 451.0,49.0 C452.6,52.5 454.9,62.2 456.4,65.2 C457.9,68.2 458.4,65.6 460.0,67.3 C461.6,69.0 464.3,75.1 465.8,75.6 C467.3,76.0 468.0,71.5 469.0,70.0 C470.0,68.5 471.0,66.8 472.0,66.8 C473.0,66.8 473.9,68.2 475.0,70.0 C476.1,71.8 477.3,76.0 478.4,77.7 C479.4,79.4 479.8,79.7 481.3,79.9 C482.8,80.1 485.7,79.6 487.6,78.9 C489.6,78.2 490.9,76.9 493.0,76.0 C495.1,75.1 498.4,73.5 500.2,73.6 C502.0,73.7 502.8,75.3 504.0,76.5 C505.2,77.7 506.1,80.3 507.5,80.5 C508.9,80.7 510.6,78.1 512.7,77.8 C514.8,77.5 517.5,78.7 520.0,78.8 C522.5,78.9 523.4,78.2 527.4,78.4 C531.4,78.6 539.1,79.6 544.2,79.9 C549.3,80.2 553.7,80.3 558.0,80.5 C562.3,80.7 568.2,80.9 570.2,81.0" stroke="#3a52a4" stroke-width="1.6"/>
<path d="M410.6,96.6 C411.8,96.2 415.7,94.3 417.6,94.0 C419.5,93.7 420.3,95.1 422.0,95.0 C423.7,94.9 426.0,94.8 428.0,93.5 C430.0,92.2 432.2,89.8 434.0,87.0 C435.8,84.2 437.5,80.3 439.0,77.0 C440.5,73.7 441.8,69.5 443.0,67.0 C444.2,64.5 445.3,61.5 446.5,62.0 C447.7,62.5 448.9,66.5 450.0,70.0 C451.1,73.5 452.1,80.0 453.0,83.0 C453.9,86.0 454.2,87.8 455.3,88.2 C456.4,88.7 457.8,85.1 459.5,85.7 C461.2,86.3 463.7,91.8 465.8,92.0 C467.9,92.2 469.9,86.5 472.0,87.2 C474.1,87.9 476.3,94.0 478.4,96.0 C480.5,98.0 482.6,99.2 484.7,99.1 C486.8,99.0 489.0,95.8 490.7,95.6 C492.4,95.4 493.1,98.3 494.9,97.7 C496.6,97.1 498.9,91.7 501.2,91.9 C503.5,92.1 504.1,97.7 508.5,98.8 C512.9,99.9 521.4,98.6 527.4,98.8 C533.4,99.0 537.1,99.8 544.2,99.8 C551.3,99.8 565.9,99.0 570.2,98.8" stroke="#1e958e" stroke-width="1.6"/>
<path d="M410.6,117.0 C411.8,116.8 415.7,116.0 417.6,115.9 C419.5,115.8 420.6,116.8 422.0,116.5 C423.4,116.2 424.1,115.5 426.0,113.8 C427.9,112.1 431.0,109.2 433.3,106.4 C435.6,103.6 437.8,100.0 440.0,97.0 C442.2,94.0 444.8,88.9 446.5,88.6 C448.2,88.3 448.9,92.9 450.0,95.0 C451.1,97.1 451.8,100.9 453.2,101.2 C454.6,101.5 457.0,96.4 458.5,97.0 C460.0,97.6 460.7,101.3 462.0,105.0 C463.3,108.7 465.2,117.8 466.4,119.0 C467.6,120.2 468.1,113.8 469.0,112.0 C469.9,110.2 470.4,108.4 472.0,108.5 C473.6,108.6 476.1,111.4 478.4,112.7 C480.6,114.0 483.4,116.2 485.5,116.6 C487.6,117.0 489.1,114.7 490.7,114.9 C492.3,115.1 493.0,117.8 494.9,117.6 C496.8,117.4 500.0,113.5 502.3,113.5 C504.6,113.5 504.3,116.9 508.5,117.6 C512.7,118.3 519.0,117.4 527.4,117.6 C535.8,117.8 551.8,118.3 558.9,118.7 C566.0,119.1 568.3,119.5 570.2,119.7" stroke="#e8242c" stroke-width="1.6"/>
</g>
<g stroke="#222" stroke-width="0.9" stroke-dasharray="1.6,1.4">
<line x1="447.1" y1="42" x2="447.1" y2="104"/>
<line x1="459.2" y1="63" x2="459.2" y2="117"/>
<line x1="466.4" y1="27" x2="466.4" y2="126"/>
</g>
<rect x="410.4" y="11.0" width="160.1" height="119.7" fill="none" stroke="#444" stroke-width="1.1"/>
<line x1="410.4" y1="130.7" x2="410.4" y2="132.7" stroke="#444" stroke-width="0.9"/>
<text x="410.4" y="141.1" style="font-size:7.00px;font-weight:bold" text-anchor="middle" fill="#222" >0</text>
<line x1="423.7" y1="130.7" x2="423.7" y2="131.9" stroke="#444" stroke-width="0.9"/>
<line x1="437.1" y1="130.7" x2="437.1" y2="132.7" stroke="#444" stroke-width="0.9"/>
<text x="437.1" y="141.1" style="font-size:7.00px;font-weight:bold" text-anchor="middle" fill="#222" >1</text>
<line x1="450.4" y1="130.7" x2="450.4" y2="131.9" stroke="#444" stroke-width="0.9"/>
<line x1="463.8" y1="130.7" x2="463.8" y2="132.7" stroke="#444" stroke-width="0.9"/>
<text x="463.8" y="141.1" style="font-size:7.00px;font-weight:bold" text-anchor="middle" fill="#222" >2</text>
<line x1="477.1" y1="130.7" x2="477.1" y2="131.9" stroke="#444" stroke-width="0.9"/>
<line x1="490.4" y1="130.7" x2="490.4" y2="132.7" stroke="#444" stroke-width="0.9"/>
<text x="490.4" y="141.1" style="font-size:7.00px;font-weight:bold" text-anchor="middle" fill="#222" >3</text>
<line x1="503.8" y1="130.7" x2="503.8" y2="131.9" stroke="#444" stroke-width="0.9"/>
<line x1="517.1" y1="130.7" x2="517.1" y2="132.7" stroke="#444" stroke-width="0.9"/>
<text x="517.1" y="141.1" style="font-size:7.00px;font-weight:bold" text-anchor="middle" fill="#222" >4</text>
<line x1="530.5" y1="130.7" x2="530.5" y2="131.9" stroke="#444" stroke-width="0.9"/>
<line x1="543.8" y1="130.7" x2="543.8" y2="132.7" stroke="#444" stroke-width="0.9"/>
<text x="543.8" y="141.1" style="font-size:7.00px;font-weight:bold" text-anchor="middle" fill="#222" >5</text>
<line x1="557.2" y1="130.7" x2="557.2" y2="131.9" stroke="#444" stroke-width="0.9"/>
<line x1="570.5" y1="130.7" x2="570.5" y2="132.7" stroke="#444" stroke-width="0.9"/>
<text x="570.5" y="141.1" style="font-size:7.00px;font-weight:bold" text-anchor="middle" fill="#222" >6</text>
<text x="490.7" y="149.7" style="font-size:8.35px;font-weight:bold" text-anchor="middle" fill="#222" >Radial distance (Å)</text>
<text x="0" y="0" font-size="8.6" text-anchor="middle" textLength="61" lengthAdjust="spacingAndGlyphs" transform="translate(405.8,71.2) rotate(-90)">|X(R)|(Å<tspan font-size="5.5" dy="-3">-3</tspan><tspan dy="3">) (a.u.)</tspan></text>
<text class="L" x="420.5" y="29">c</text>
<text x="466.6" y="21.8" style="font-size:8.20px;font-weight:bold" text-anchor="middle" fill="#222" >Ni-Ni</text>
<text x="444.9" y="39.1" style="font-size:8.20px;font-weight:bold" text-anchor="middle" fill="#222" >Ni-N</text>
<text x="526.7" y="44.8" style="font-size:8.10px;font-weight:bold" text-anchor="middle" fill="#222" >Ni foil</text>
<text x="454.3" y="124.5" style="font-size:8.20px;font-weight:bold" text-anchor="middle" fill="#222" >Ni-C</text>
<text x="514.8" y="73.9" style="font-size:8.40px;font-weight:bold" text-anchor="start" fill="#222" >Ni<tspan font-size="5.3" dy="1.8">SA</tspan><tspan dy="-1.8">-N</tspan><tspan font-size="5.3" dy="1.8">4</tspan><tspan dy="-1.8">-C</tspan></text>
<text x="514.8" y="92.7" style="font-size:8.40px;font-weight:bold" text-anchor="start" fill="#222" >Ni<tspan font-size="5.3" dy="1.8">SA</tspan><tspan dy="-1.8">-N</tspan><tspan font-size="5.3" dy="1.8">3</tspan><tspan dy="-1.8">-C</tspan></text>
<text x="514.8" y="111.8" style="font-size:8.40px;font-weight:bold" text-anchor="start" fill="#222" >Ni<tspan font-size="5.3" dy="1.8">SA</tspan><tspan dy="-1.8">-N</tspan><tspan font-size="5.3" dy="1.8">2</tspan><tspan dy="-1.8">-C</tspan></text>
<g fill="none" stroke-linejoin="round" stroke-linecap="round">
<path d="M600.7,113.6 C601.6,112.9 604.2,109.5 605.8,109.4 C607.3,109.3 608.3,113.1 610.0,112.8 C611.7,112.5 614.4,109.1 616.0,107.7 C617.6,106.3 618.4,107.1 619.6,104.5 C620.8,101.9 621.8,97.4 623.0,92.0 C624.2,86.6 625.6,79.8 626.8,72.0 C628.0,64.2 629.0,52.3 630.0,45.0 C631.0,37.7 631.9,32.5 633.0,28.0 C634.1,23.5 635.4,18.9 636.6,17.9 C637.8,16.9 638.9,17.5 640.0,22.0 C641.1,26.5 642.1,38.2 643.0,45.0 C643.9,51.8 644.8,61.8 645.5,63.0 C646.2,64.2 646.9,54.5 647.5,52.0 C648.1,49.5 648.7,48.0 649.4,48.0 C650.1,48.0 650.8,48.5 651.5,52.0 C652.2,55.5 653.0,59.1 653.8,69.2 C654.5,79.3 655.2,105.2 656.0,112.8 C656.8,120.4 657.3,116.9 658.3,115.0 C659.3,113.1 660.6,101.7 661.8,101.3 C662.9,100.9 663.9,111.6 665.2,112.8 C666.5,114.0 668.3,107.6 669.8,108.2 C671.3,108.8 672.7,115.6 674.4,116.2 C676.1,116.8 677.8,111.0 680.1,111.6 C682.4,112.2 685.7,118.6 688.2,119.6 C690.7,120.5 693.0,117.0 695.0,117.3 C697.0,117.6 697.8,120.2 700.0,121.2 C702.2,122.2 705.5,122.7 708.0,123.2 C710.5,123.8 711.4,124.1 714.7,124.5 C718.0,124.9 720.1,125.4 727.8,125.8 C735.5,126.2 755.5,126.9 761.0,127.1" stroke="#e8242c" stroke-width="1.5"/>
<path d="M600.7,115.0 C601.6,114.2 604.2,110.6 605.8,110.4 C607.3,110.2 608.3,114.2 610.0,113.6 C611.7,113.0 614.4,108.3 616.0,107.0 C617.6,105.7 618.3,108.3 619.6,105.5 C620.9,102.7 622.4,96.8 624.0,90.0 C625.6,83.2 627.9,74.2 629.4,65.0 C630.9,55.8 631.9,42.5 633.0,35.0 C634.1,27.5 635.0,23.0 636.0,20.0 C637.0,17.0 638.0,16.6 639.0,16.9 C640.0,17.2 641.1,18.1 642.0,22.0 C642.9,25.9 643.9,31.2 644.6,40.0 C645.4,48.8 645.9,64.2 646.5,75.0 C647.1,85.8 647.4,97.8 648.0,105.0 C648.6,112.2 649.5,117.0 650.3,118.5 C651.1,120.0 651.8,115.4 652.6,113.9 C653.4,112.4 654.0,109.1 654.9,109.3 C655.8,109.5 656.9,114.0 658.3,115.0 C659.6,116.0 661.1,114.6 663.0,115.0 C664.9,115.4 666.0,116.7 669.8,117.3 C673.6,117.9 680.9,118.1 685.9,118.5 C690.9,118.9 694.3,119.0 700.0,119.6 C705.7,120.2 709.8,121.1 720.0,122.0 C730.2,122.9 754.2,124.5 761.0,125.0" stroke="#3a52a4" stroke-width="1.5"/>
<path d="M600.7,127.3 C601.2,127.1 602.6,126.3 604.0,126.0 C605.4,125.7 607.5,125.8 609.2,125.5 C610.9,125.2 612.3,124.7 614.0,124.3 C615.7,123.9 617.7,124.0 619.4,123.2 C621.1,122.4 622.6,120.7 624.0,119.5 C625.4,118.3 626.8,117.5 628.0,116.2 C629.2,115.0 629.9,113.6 631.0,112.0 C632.1,110.4 633.5,109.0 634.7,106.8 C635.9,104.6 637.0,102.5 638.0,99.0 C639.0,95.5 640.2,90.5 641.0,86.0 C641.8,81.5 642.2,76.7 643.0,72.0 C643.8,67.3 644.8,61.7 645.5,58.0 C646.2,54.3 646.4,51.8 647.0,50.0 C647.6,48.2 648.2,47.2 648.9,47.4 C649.6,47.6 650.3,48.9 651.0,51.0 C651.7,53.1 652.4,53.9 653.0,60.0 C653.6,66.1 654.4,78.8 654.9,87.5 C655.4,96.2 655.5,106.3 656.0,112.0 C656.5,117.7 657.1,121.2 657.9,121.9 C658.7,122.6 659.6,116.4 660.6,116.2 C661.6,116.0 663.0,120.4 664.1,120.8 C665.2,121.2 665.8,118.3 667.5,118.5 C669.2,118.7 671.3,121.5 674.4,121.9 C677.5,122.3 681.6,120.2 685.9,120.8 C690.2,121.4 695.2,124.5 700.0,125.5 C704.8,126.5 704.5,126.1 714.7,126.5 C724.9,126.9 753.3,127.8 761.0,128.0" stroke="#1e958e" stroke-width="1.5"/>
</g>
<g fill="none" stroke="#3a3a3a" stroke-width="0.9">
<circle cx="601.0" cy="115.4" r="2.0"/>
<circle cx="602.0" cy="113.5" r="2.0"/>
<circle cx="602.9" cy="112.1" r="2.0"/>
<circle cx="603.9" cy="111.0" r="2.0"/>
<circle cx="604.9" cy="110.3" r="2.0"/>
<circle cx="605.8" cy="110.0" r="2.0"/>
<circle cx="606.7" cy="110.5" r="2.0"/>
<circle cx="607.7" cy="111.6" r="2.0"/>
<circle cx="608.6" cy="112.8" r="2.0"/>
<circle cx="609.6" cy="113.6" r="2.0"/>
<circle cx="610.5" cy="112.9" r="2.0"/>
<circle cx="611.5" cy="111.3" r="2.0"/>
<circle cx="612.5" cy="109.7" r="2.0"/>
<circle cx="613.4" cy="108.6" r="2.0"/>
<circle cx="614.4" cy="107.9" r="2.0"/>
<circle cx="615.3" cy="107.4" r="2.0"/>
<circle cx="616.2" cy="106.9" r="2.0"/>
<circle cx="617.2" cy="106.4" r="2.0"/>
<circle cx="618.2" cy="106.0" r="2.0"/>
<circle cx="619.1" cy="105.3" r="2.0"/>
<circle cx="620.1" cy="103.4" r="2.0"/>
<circle cx="621.0" cy="100.4" r="2.0"/>
<circle cx="621.9" cy="96.3" r="2.0"/>
<circle cx="622.9" cy="92.1" r="2.0"/>
<circle cx="623.8" cy="87.3" r="2.0"/>
<circle cx="624.8" cy="78.5" r="2.0"/>
<circle cx="625.7" cy="69.4" r="2.0"/>
<circle cx="626.7" cy="65.7" r="2.0"/>
<circle cx="627.6" cy="63.7" r="2.0"/>
<circle cx="628.6" cy="59.6" r="2.0"/>
<circle cx="629.5" cy="54.2" r="2.0"/>
<circle cx="630.5" cy="47.9" r="2.0"/>
<circle cx="631.4" cy="43.1" r="2.0"/>
<circle cx="632.4" cy="36.7" r="2.0"/>
<circle cx="633.3" cy="31.8" r="2.0"/>
<circle cx="634.3" cy="27.7" r="2.0"/>
<circle cx="635.2" cy="23.8" r="2.0"/>
<circle cx="636.2" cy="19.9" r="2.0"/>
<circle cx="637.1" cy="17.8" r="2.0"/>
<circle cx="638.1" cy="17.7" r="2.0"/>
<circle cx="639.1" cy="18.2" r="2.0"/>
<circle cx="640.0" cy="20.3" r="2.0"/>
<circle cx="640.9" cy="28.0" r="2.0"/>
<circle cx="641.9" cy="36.5" r="2.0"/>
<circle cx="642.8" cy="51.4" r="2.0"/>
<circle cx="643.8" cy="58.1" r="2.0"/>
<circle cx="644.7" cy="60.0" r="2.0"/>
<circle cx="645.7" cy="59.6" r="2.0"/>
<circle cx="646.6" cy="54.4" r="2.0"/>
<circle cx="647.6" cy="50.8" r="2.0"/>
<circle cx="648.5" cy="48.6" r="2.0"/>
<circle cx="649.5" cy="47.4" r="2.0"/>
<circle cx="650.5" cy="47.7" r="2.0"/>
<circle cx="651.4" cy="49.4" r="2.0"/>
<circle cx="652.3" cy="53.7" r="2.0"/>
<circle cx="653.3" cy="58.5" r="2.0"/>
<circle cx="654.2" cy="64.0" r="2.0"/>
<circle cx="655.2" cy="98.8" r="2.0"/>
<circle cx="656.1" cy="107.4" r="2.0"/>
<circle cx="657.1" cy="120.7" r="2.0"/>
<circle cx="658.0" cy="116.9" r="2.0"/>
<circle cx="659.0" cy="109.3" r="2.0"/>
<circle cx="660.0" cy="102.9" r="2.0"/>
<circle cx="660.9" cy="96.9" r="2.0"/>
<circle cx="661.9" cy="91.8" r="2.0"/>
<circle cx="662.8" cy="89.0" r="2.0"/>
<circle cx="663.7" cy="87.6" r="2.0"/>
<circle cx="664.7" cy="87.9" r="2.0"/>
<circle cx="665.6" cy="89.9" r="2.0"/>
<circle cx="666.6" cy="92.6" r="2.0"/>
<circle cx="667.5" cy="96.3" r="2.0"/>
<circle cx="668.5" cy="100.3" r="2.0"/>
<circle cx="669.5" cy="105.3" r="2.0"/>
<circle cx="670.4" cy="110.3" r="2.0"/>
<circle cx="671.4" cy="113.9" r="2.0"/>
<circle cx="672.3" cy="115.6" r="2.0"/>
<circle cx="673.2" cy="116.2" r="2.0"/>
<circle cx="674.2" cy="116.3" r="2.0"/>
<circle cx="675.2" cy="116.1" r="2.0"/>
<circle cx="676.1" cy="115.5" r="2.0"/>
<circle cx="677.0" cy="114.6" r="2.0"/>
<circle cx="678.0" cy="112.8" r="2.0"/>
<circle cx="678.9" cy="110.9" r="2.0"/>
<circle cx="679.9" cy="109.4" r="2.0"/>
<circle cx="680.9" cy="109.6" r="2.0"/>
<circle cx="681.8" cy="111.6" r="2.0"/>
<circle cx="682.8" cy="113.6" r="2.0"/>
<circle cx="683.7" cy="116.1" r="2.0"/>
<circle cx="684.6" cy="117.3" r="2.0"/>
<circle cx="685.7" cy="116.8" r="2.0"/>
<circle cx="686.5" cy="115.7" r="2.0"/>
<circle cx="687.5" cy="114.1" r="2.0"/>
<circle cx="688.4" cy="112.3" r="2.0"/>
<circle cx="689.4" cy="109.9" r="2.0"/>
<circle cx="690.3" cy="107.1" r="2.0"/>
<circle cx="691.3" cy="104.3" r="2.0"/>
<circle cx="692.3" cy="102.0" r="2.0"/>
<circle cx="693.2" cy="100.3" r="2.0"/>
<circle cx="694.2" cy="100.3" r="2.0"/>
<circle cx="695.1" cy="101.3" r="2.0"/>
<circle cx="696.1" cy="103.0" r="2.0"/>
<circle cx="697.0" cy="105.1" r="2.0"/>
<circle cx="698.0" cy="108.3" r="2.0"/>
<circle cx="698.9" cy="112.5" r="2.0"/>
</g>
<g fill="none" stroke="#111" stroke-width="1.2">
<circle cx="699.8" cy="116.5" r="2.0"/>
<circle cx="700.8" cy="118.6" r="2.0"/>
<circle cx="702.1" cy="119.0" r="2.0"/>
<circle cx="703.4" cy="118.8" r="2.0"/>
<circle cx="704.8" cy="118.4" r="2.0"/>
<circle cx="706.0" cy="118.0" r="2.0"/>
<circle cx="707.3" cy="117.6" r="2.0"/>
<circle cx="708.7" cy="117.0" r="2.0"/>
<circle cx="710.0" cy="116.6" r="2.0"/>
<circle cx="711.3" cy="116.2" r="2.0"/>
<circle cx="712.6" cy="116.0" r="2.0"/>
<circle cx="713.8" cy="116.1" r="2.0"/>
<circle cx="715.2" cy="116.6" r="2.0"/>
<circle cx="716.5" cy="117.5" r="2.0"/>
<circle cx="717.9" cy="118.4" r="2.0"/>
<circle cx="719.2" cy="119.0" r="2.0"/>
<circle cx="720.4" cy="119.2" r="2.0"/>
<circle cx="721.6" cy="118.7" r="2.0"/>
<circle cx="722.9" cy="117.8" r="2.0"/>
<circle cx="724.2" cy="116.9" r="2.0"/>
<circle cx="725.6" cy="116.6" r="2.0"/>
<circle cx="726.9" cy="117.0" r="2.0"/>
<circle cx="728.1" cy="117.7" r="2.0"/>
<circle cx="729.5" cy="118.9" r="2.0"/>
<circle cx="730.7" cy="119.8" r="2.0"/>
<circle cx="732.0" cy="120.7" r="2.0"/>
<circle cx="733.3" cy="121.3" r="2.0"/>
<circle cx="734.8" cy="121.8" r="2.0"/>
<circle cx="736.1" cy="122.2" r="2.0"/>
<circle cx="737.4" cy="122.4" r="2.0"/>
<circle cx="738.7" cy="122.6" r="2.0"/>
<circle cx="739.8" cy="122.6" r="2.0"/>
<circle cx="741.2" cy="122.5" r="2.0"/>
<circle cx="742.4" cy="122.1" r="2.0"/>
<circle cx="743.7" cy="121.7" r="2.0"/>
<circle cx="745.0" cy="121.1" r="2.0"/>
<circle cx="746.3" cy="120.5" r="2.0"/>
<circle cx="747.8" cy="119.8" r="2.0"/>
<circle cx="749.0" cy="119.4" r="2.0"/>
<circle cx="750.2" cy="119.2" r="2.0"/>
<circle cx="751.5" cy="119.4" r="2.0"/>
<circle cx="752.8" cy="120.2" r="2.0"/>
<circle cx="754.1" cy="121.3" r="2.0"/>
<circle cx="755.5" cy="122.4" r="2.0"/>
<circle cx="756.7" cy="123.5" r="2.0"/>
<circle cx="758.0" cy="124.8" r="2.0"/>
<circle cx="759.3" cy="125.9" r="2.0"/>
<circle cx="760.6" cy="126.1" r="2.0"/>
</g>
<rect x="600.4" y="11.1" width="160.9" height="120.1" fill="none" stroke="#444" stroke-width="1.1"/>
<line x1="600.4" y1="131.2" x2="600.4" y2="133.2" stroke="#444" stroke-width="0.9"/>
<text x="600.4" y="141.7" style="font-size:8.40px;font-weight:bold" text-anchor="middle" fill="#222" >0</text>
<line x1="613.8" y1="131.2" x2="613.8" y2="132.4" stroke="#444" stroke-width="0.9"/>
<line x1="627.2" y1="131.2" x2="627.2" y2="133.2" stroke="#444" stroke-width="0.9"/>
<text x="627.2" y="141.7" style="font-size:8.40px;font-weight:bold" text-anchor="middle" fill="#222" >1</text>
<line x1="640.6" y1="131.2" x2="640.6" y2="132.4" stroke="#444" stroke-width="0.9"/>
<line x1="654.0" y1="131.2" x2="654.0" y2="133.2" stroke="#444" stroke-width="0.9"/>
<text x="654.0" y="141.7" style="font-size:8.40px;font-weight:bold" text-anchor="middle" fill="#222" >2</text>
<line x1="667.4" y1="131.2" x2="667.4" y2="132.4" stroke="#444" stroke-width="0.9"/>
<line x1="680.8" y1="131.2" x2="680.8" y2="133.2" stroke="#444" stroke-width="0.9"/>
<text x="680.8" y="141.7" style="font-size:8.40px;font-weight:bold" text-anchor="middle" fill="#222" >3</text>
<line x1="694.3" y1="131.2" x2="694.3" y2="132.4" stroke="#444" stroke-width="0.9"/>
<line x1="707.7" y1="131.2" x2="707.7" y2="133.2" stroke="#444" stroke-width="0.9"/>
<text x="707.7" y="141.7" style="font-size:8.40px;font-weight:bold" text-anchor="middle" fill="#222" >4</text>
<line x1="721.1" y1="131.2" x2="721.1" y2="132.4" stroke="#444" stroke-width="0.9"/>
<line x1="734.5" y1="131.2" x2="734.5" y2="133.2" stroke="#444" stroke-width="0.9"/>
<text x="734.5" y="141.7" style="font-size:8.40px;font-weight:bold" text-anchor="middle" fill="#222" >5</text>
<line x1="747.9" y1="131.2" x2="747.9" y2="132.4" stroke="#444" stroke-width="0.9"/>
<line x1="761.3" y1="131.2" x2="761.3" y2="133.2" stroke="#444" stroke-width="0.9"/>
<text x="761.3" y="141.7" style="font-size:8.40px;font-weight:bold" text-anchor="middle" fill="#222" >6</text>
<line x1="598.4" y1="127.5" x2="600.4" y2="127.5" stroke="#444" stroke-width="0.9"/>
<text x="596.5" y="130.4" style="font-size:8.20px;font-weight:bold" text-anchor="end" fill="#222" >0</text>
<line x1="599.2" y1="110.9" x2="600.4" y2="110.9" stroke="#444" stroke-width="0.9"/>
<line x1="598.4" y1="94.3" x2="600.4" y2="94.3" stroke="#444" stroke-width="0.9"/>
<text x="596.5" y="97.2" style="font-size:8.20px;font-weight:bold" text-anchor="end" fill="#222" >1</text>
<line x1="599.2" y1="77.7" x2="600.4" y2="77.7" stroke="#444" stroke-width="0.9"/>
<line x1="598.4" y1="61.1" x2="600.4" y2="61.1" stroke="#444" stroke-width="0.9"/>
<text x="596.5" y="64.0" style="font-size:8.20px;font-weight:bold" text-anchor="end" fill="#222" >2</text>
<line x1="599.2" y1="44.5" x2="600.4" y2="44.5" stroke="#444" stroke-width="0.9"/>
<line x1="598.4" y1="27.9" x2="600.4" y2="27.9" stroke="#444" stroke-width="0.9"/>
<text x="596.5" y="30.8" style="font-size:8.20px;font-weight:bold" text-anchor="end" fill="#222" >3</text>
<text x="682.5" y="150.2" style="font-size:8.35px;font-weight:bold" text-anchor="middle" fill="#222" >Radial distance (Å)</text>
<text x="0" y="0" font-size="8.9" text-anchor="middle" transform="translate(589.5,70.7) rotate(-90)">|X(R)|(Å<tspan font-size="5.5" dy="-3">-3</tspan><tspan dy="3">)</tspan></text>
<text class="L" x="608.3" y="30.6">d</text>
<line x1="695.7" y1="23.9" x2="710.5" y2="23.9" stroke="#e8242c" stroke-width="1.5"/>
<text x="713.0" y="26.8" style="font-size:8.20px;font-weight:bold" text-anchor="start" fill="#222" >Fitting</text>
<line x1="695.7" y1="35.0" x2="710.5" y2="35.0" stroke="#3a52a4" stroke-width="1.5"/>
<text x="713.0" y="37.9" style="font-size:8.20px;font-weight:bold" text-anchor="start" fill="#222" >Ni-N</text>
<line x1="695.7" y1="46.2" x2="710.5" y2="46.2" stroke="#1e958e" stroke-width="1.5"/>
<text x="713.0" y="49.1" style="font-size:8.20px;font-weight:bold" text-anchor="start" fill="#222" >Ni-C</text>
<g stroke="#8c8c8c" stroke-width="2.0" stroke-linecap="round">
<line x1="706.9" y1="76.7" x2="697.7" y2="68.1"/>
<line x1="706.9" y1="76.7" x2="716.1" y2="85.2"/>
<line x1="706.9" y1="76.7" x2="714.8" y2="68.8"/>
<line x1="706.9" y1="76.7" x2="698.4" y2="83.2"/>
<line x1="697.7" y1="68.1" x2="703.0" y2="60.9"/>
<line x1="703.0" y1="60.9" x2="710.8" y2="60.9"/>
<line x1="710.8" y1="60.9" x2="714.8" y2="68.8"/>
<line x1="714.8" y1="68.8" x2="724.6" y2="68.1"/>
<line x1="724.6" y1="68.1" x2="729.2" y2="76.0"/>
<line x1="729.2" y1="76.0" x2="725.3" y2="83.2"/>
<line x1="725.3" y1="83.2" x2="716.1" y2="85.2"/>
<line x1="716.1" y1="85.2" x2="711.5" y2="90.4"/>
<line x1="711.5" y1="90.4" x2="703.0" y2="90.4"/>
<line x1="703.0" y1="90.4" x2="698.4" y2="83.2"/>
<line x1="698.4" y1="83.2" x2="689.2" y2="83.2"/>
<line x1="689.2" y1="83.2" x2="685.2" y2="76.0"/>
<line x1="685.2" y1="76.0" x2="689.8" y2="68.1"/>
<line x1="689.8" y1="68.1" x2="697.7" y2="68.1"/>
</g>
<circle cx="706.9" cy="76.7" r="3.9" fill="url(#gR)"/>
<circle cx="697.7" cy="68.1" r="2.5" fill="url(#gB)"/>
<circle cx="716.1" cy="85.2" r="2.5" fill="url(#gB)"/>
<circle cx="703.0" cy="60.9" r="2.5" fill="url(#gG)"/>
<circle cx="710.8" cy="60.9" r="2.5" fill="url(#gG)"/>
<circle cx="714.8" cy="68.8" r="2.5" fill="url(#gG)"/>
<circle cx="724.6" cy="68.1" r="2.5" fill="url(#gG)"/>
<circle cx="729.2" cy="76.0" r="2.5" fill="url(#gG)"/>
<circle cx="725.3" cy="83.2" r="2.5" fill="url(#gG)"/>
<circle cx="711.5" cy="90.4" r="2.5" fill="url(#gG)"/>
<circle cx="703.0" cy="90.4" r="2.5" fill="url(#gG)"/>
<circle cx="698.4" cy="83.2" r="2.5" fill="url(#gG)"/>
<circle cx="689.2" cy="83.2" r="2.5" fill="url(#gG)"/>
<circle cx="685.2" cy="76.0" r="2.5" fill="url(#gG)"/>
<circle cx="689.8" cy="68.1" r="2.5" fill="url(#gG)"/>
<circle cx="737.7" cy="86.2" r="3.6" fill="url(#gR)"/>
<circle cx="737.7" cy="95.6" r="3.6" fill="url(#gG)"/>
<circle cx="737.7" cy="104.9" r="3.6" fill="url(#gB)"/>
<text x="744.4" y="88.3" style="font-size:6.00px;font-weight:bold" text-anchor="start" fill="#222" >Ni</text>
<text x="744.4" y="97.7" style="font-size:6.00px;font-weight:bold" text-anchor="start" fill="#222" >C</text>
<text x="744.4" y="107.0" style="font-size:6.00px;font-weight:bold" text-anchor="start" fill="#222" >N</text>
<text class="L" x="38.3" y="163.8">e</text>
<g stroke-linecap="round">
<line x1="56.2" y1="180.6" x2="50.6" y2="177.8" stroke="#3050a0" stroke-width="2.7"/>
<line x1="61.7" y1="183.3" x2="56.2" y2="180.6" stroke="#d8202a" stroke-width="2.7"/>
<line x1="68.6" y1="186.6" x2="75.5" y2="189.9" stroke="#3050a0" stroke-width="2.7"/>
<line x1="61.7" y1="183.3" x2="68.6" y2="186.6" stroke="#d8202a" stroke-width="2.7"/>
<line x1="67.6" y1="180.6" x2="73.5" y2="177.8" stroke="#a4a4a4" stroke-width="2.7"/>
<line x1="61.7" y1="183.3" x2="67.6" y2="180.6" stroke="#d8202a" stroke-width="2.7"/>
<line x1="55.2" y1="186.6" x2="48.6" y2="189.9" stroke="#a4a4a4" stroke-width="2.7"/>
<line x1="61.7" y1="183.3" x2="55.2" y2="186.6" stroke="#d8202a" stroke-width="2.7"/>
<line x1="50.6" y1="177.8" x2="56.5" y2="172.2" stroke="#a4a4a4" stroke-width="2.6"/>
<line x1="56.5" y1="172.2" x2="67.6" y2="172.9" stroke="#a4a4a4" stroke-width="2.6"/>
<line x1="67.6" y1="172.9" x2="73.5" y2="177.8" stroke="#a4a4a4" stroke-width="2.6"/>
<line x1="73.5" y1="177.8" x2="85.3" y2="177.5" stroke="#a4a4a4" stroke-width="2.6"/>
<line x1="85.3" y1="177.5" x2="94.5" y2="184.0" stroke="#a4a4a4" stroke-width="2.6"/>
<line x1="94.5" y1="184.0" x2="89.2" y2="190.6" stroke="#a4a4a4" stroke-width="2.6"/>
<line x1="89.2" y1="190.6" x2="75.5" y2="189.9" stroke="#a4a4a4" stroke-width="2.6"/>
<line x1="75.5" y1="189.9" x2="68.9" y2="198.8" stroke="#a4a4a4" stroke-width="2.6"/>
<line x1="68.9" y1="198.8" x2="53.8" y2="198.8" stroke="#a4a4a4" stroke-width="2.6"/>
<line x1="53.8" y1="198.8" x2="48.6" y2="189.9" stroke="#a4a4a4" stroke-width="2.6"/>
<line x1="48.6" y1="189.9" x2="33.5" y2="189.9" stroke="#a4a4a4" stroke-width="2.6"/>
<line x1="33.5" y1="189.9" x2="28.9" y2="183.3" stroke="#a4a4a4" stroke-width="2.6"/>
<line x1="28.9" y1="183.3" x2="38.1" y2="177.8" stroke="#a4a4a4" stroke-width="2.6"/>
<line x1="38.1" y1="177.8" x2="50.6" y2="177.8" stroke="#a4a4a4" stroke-width="2.6"/>
</g>
<circle cx="61.7" cy="183.3" r="4.1" fill="url(#gR)"/>
<circle cx="50.6" cy="177.8" r="2.6" fill="url(#gB)"/>
<circle cx="75.5" cy="189.9" r="2.6" fill="url(#gB)"/>
<circle cx="56.5" cy="172.2" r="2.8" fill="url(#gG)"/>
<circle cx="67.6" cy="172.9" r="2.8" fill="url(#gG)"/>
<circle cx="73.5" cy="177.8" r="2.8" fill="url(#gG)"/>
<circle cx="85.3" cy="177.5" r="2.8" fill="url(#gG)"/>
<circle cx="94.5" cy="184.0" r="2.8" fill="url(#gG)"/>
<circle cx="89.2" cy="190.6" r="2.8" fill="url(#gG)"/>
<circle cx="68.9" cy="198.8" r="2.8" fill="url(#gG)"/>
<circle cx="53.8" cy="198.8" r="2.8" fill="url(#gG)"/>
<circle cx="48.6" cy="189.9" r="2.8" fill="url(#gG)"/>
<circle cx="33.5" cy="189.9" r="2.8" fill="url(#gG)"/>
<circle cx="28.9" cy="183.3" r="2.8" fill="url(#gG)"/>
<circle cx="38.1" cy="177.8" r="2.8" fill="url(#gG)"/>
<g stroke-linecap="round">
<line x1="162.9" y1="180.2" x2="157.3" y2="177.4" stroke="#3050a0" stroke-width="2.7"/>
<line x1="168.4" y1="182.9" x2="162.9" y2="180.2" stroke="#d8202a" stroke-width="2.7"/>
<line x1="175.3" y1="186.2" x2="182.2" y2="189.5" stroke="#3050a0" stroke-width="2.7"/>
<line x1="168.4" y1="182.9" x2="175.3" y2="186.2" stroke="#d8202a" stroke-width="2.7"/>
<line x1="174.3" y1="180.2" x2="180.2" y2="177.4" stroke="#a4a4a4" stroke-width="2.7"/>
<line x1="168.4" y1="182.9" x2="174.3" y2="180.2" stroke="#d8202a" stroke-width="2.7"/>
<line x1="161.9" y1="186.2" x2="155.3" y2="189.5" stroke="#a4a4a4" stroke-width="2.7"/>
<line x1="168.4" y1="182.9" x2="161.9" y2="186.2" stroke="#d8202a" stroke-width="2.7"/>
<line x1="157.3" y1="177.4" x2="163.2" y2="171.8" stroke="#a4a4a4" stroke-width="2.6"/>
<line x1="163.2" y1="171.8" x2="174.3" y2="172.5" stroke="#a4a4a4" stroke-width="2.6"/>
<line x1="174.3" y1="172.5" x2="180.2" y2="177.4" stroke="#a4a4a4" stroke-width="2.6"/>
<line x1="180.2" y1="177.4" x2="192.0" y2="177.1" stroke="#a4a4a4" stroke-width="2.6"/>
<line x1="192.0" y1="177.1" x2="201.2" y2="183.6" stroke="#a4a4a4" stroke-width="2.6"/>
<line x1="201.2" y1="183.6" x2="195.9" y2="190.2" stroke="#a4a4a4" stroke-width="2.6"/>
<line x1="195.9" y1="190.2" x2="182.2" y2="189.5" stroke="#a4a4a4" stroke-width="2.6"/>
<line x1="182.2" y1="189.5" x2="175.6" y2="198.4" stroke="#a4a4a4" stroke-width="2.6"/>
<line x1="175.6" y1="198.4" x2="160.5" y2="198.4" stroke="#a4a4a4" stroke-width="2.6"/>
<line x1="160.5" y1="198.4" x2="155.3" y2="189.5" stroke="#a4a4a4" stroke-width="2.6"/>
<line x1="155.3" y1="189.5" x2="140.2" y2="189.5" stroke="#a4a4a4" stroke-width="2.6"/>
<line x1="140.2" y1="189.5" x2="135.6" y2="182.9" stroke="#a4a4a4" stroke-width="2.6"/>
<line x1="135.6" y1="182.9" x2="144.8" y2="177.4" stroke="#a4a4a4" stroke-width="2.6"/>
<line x1="144.8" y1="177.4" x2="157.3" y2="177.4" stroke="#a4a4a4" stroke-width="2.6"/>
</g>
<line x1="168.4" y1="182.9" x2="169.3" y2="169.0" stroke="#a8a8a8" stroke-width="1.3" stroke-linecap="round"/>
<line x1="169.3" y1="169.0" x2="163.2" y2="171.8" stroke="#a8a8a8" stroke-width="1.3" stroke-linecap="round"/>
<line x1="169.3" y1="169.0" x2="180.2" y2="177.4" stroke="#a8a8a8" stroke-width="1.3" stroke-linecap="round"/>
<line x1="169.3" y1="169.0" x2="169.3" y2="161.6" stroke="#a8a8a8" stroke-width="1.8" stroke-linecap="round"/>
<circle cx="169.3" cy="169.0" r="2.7" fill="url(#gG)"/>
<circle cx="169.3" cy="161.6" r="2.8" fill="url(#gO)"/>
<circle cx="168.4" cy="182.9" r="4.1" fill="url(#gR)"/>
<circle cx="157.3" cy="177.4" r="2.6" fill="url(#gB)"/>
<circle cx="182.2" cy="189.5" r="2.6" fill="url(#gB)"/>
<circle cx="163.2" cy="171.8" r="2.8" fill="url(#gG)"/>
<circle cx="174.3" cy="172.5" r="2.8" fill="url(#gG)"/>
<circle cx="180.2" cy="177.4" r="2.8" fill="url(#gG)"/>
<circle cx="192.0" cy="177.1" r="2.8" fill="url(#gG)"/>
<circle cx="201.2" cy="183.6" r="2.8" fill="url(#gG)"/>
<circle cx="195.9" cy="190.2" r="2.8" fill="url(#gG)"/>
<circle cx="175.6" cy="198.4" r="2.8" fill="url(#gG)"/>
<circle cx="160.5" cy="198.4" r="2.8" fill="url(#gG)"/>
<circle cx="155.3" cy="189.5" r="2.8" fill="url(#gG)"/>
<circle cx="140.2" cy="189.5" r="2.8" fill="url(#gG)"/>
<circle cx="135.6" cy="182.9" r="2.8" fill="url(#gG)"/>
<circle cx="144.8" cy="177.4" r="2.8" fill="url(#gG)"/>
<g stroke-linecap="round">
<line x1="56.4" y1="271.9" x2="50.8" y2="269.1" stroke="#3050a0" stroke-width="2.7"/>
<line x1="61.9" y1="274.6" x2="56.4" y2="271.9" stroke="#d8202a" stroke-width="2.7"/>
<line x1="68.8" y1="277.9" x2="75.7" y2="281.2" stroke="#3050a0" stroke-width="2.7"/>
<line x1="61.9" y1="274.6" x2="68.8" y2="277.9" stroke="#d8202a" stroke-width="2.7"/>
<line x1="67.8" y1="271.9" x2="73.7" y2="269.1" stroke="#a4a4a4" stroke-width="2.7"/>
<line x1="61.9" y1="274.6" x2="67.8" y2="271.9" stroke="#d8202a" stroke-width="2.7"/>
<line x1="55.4" y1="277.9" x2="48.8" y2="281.2" stroke="#a4a4a4" stroke-width="2.7"/>
<line x1="61.9" y1="274.6" x2="55.4" y2="277.9" stroke="#d8202a" stroke-width="2.7"/>
<line x1="50.8" y1="269.1" x2="56.7" y2="263.5" stroke="#a4a4a4" stroke-width="2.6"/>
<line x1="56.7" y1="263.5" x2="67.8" y2="264.2" stroke="#a4a4a4" stroke-width="2.6"/>
<line x1="67.8" y1="264.2" x2="73.7" y2="269.1" stroke="#a4a4a4" stroke-width="2.6"/>
<line x1="73.7" y1="269.1" x2="85.5" y2="268.8" stroke="#a4a4a4" stroke-width="2.6"/>
<line x1="85.5" y1="268.8" x2="94.7" y2="275.3" stroke="#a4a4a4" stroke-width="2.6"/>
<line x1="94.7" y1="275.3" x2="89.4" y2="281.9" stroke="#a4a4a4" stroke-width="2.6"/>
<line x1="89.4" y1="281.9" x2="75.7" y2="281.2" stroke="#a4a4a4" stroke-width="2.6"/>
<line x1="75.7" y1="281.2" x2="69.1" y2="290.1" stroke="#a4a4a4" stroke-width="2.6"/>
<line x1="69.1" y1="290.1" x2="54.0" y2="290.1" stroke="#a4a4a4" stroke-width="2.6"/>
<line x1="54.0" y1="290.1" x2="48.8" y2="281.2" stroke="#a4a4a4" stroke-width="2.6"/>
<line x1="48.8" y1="281.2" x2="33.7" y2="281.2" stroke="#a4a4a4" stroke-width="2.6"/>
<line x1="33.7" y1="281.2" x2="29.1" y2="274.6" stroke="#a4a4a4" stroke-width="2.6"/>
<line x1="29.1" y1="274.6" x2="38.3" y2="269.1" stroke="#a4a4a4" stroke-width="2.6"/>
<line x1="38.3" y1="269.1" x2="50.8" y2="269.1" stroke="#a4a4a4" stroke-width="2.6"/>
</g>
<line x1="61.9" y1="274.6" x2="61.9" y2="260.6" stroke="#a8a8a8" stroke-width="1.3" stroke-linecap="round"/>
<line x1="61.9" y1="260.6" x2="50.8" y2="269.1" stroke="#a8a8a8" stroke-width="1.3" stroke-linecap="round"/>
<line x1="61.9" y1="260.6" x2="73.7" y2="269.1" stroke="#a8a8a8" stroke-width="1.3" stroke-linecap="round"/>
<line x1="61.9" y1="260.6" x2="53.7" y2="255.7" stroke="#a8a8a8" stroke-width="1.8" stroke-linecap="round"/>
<line x1="61.9" y1="260.6" x2="70.1" y2="255.7" stroke="#a8a8a8" stroke-width="1.8" stroke-linecap="round"/>
<circle cx="61.9" cy="260.6" r="2.7" fill="url(#gG)"/>
<circle cx="53.7" cy="255.7" r="2.8" fill="url(#gO)"/>
<circle cx="70.1" cy="255.7" r="2.8" fill="url(#gO)"/>
<circle cx="61.9" cy="274.6" r="4.1" fill="url(#gR)"/>
<circle cx="50.8" cy="269.1" r="2.6" fill="url(#gB)"/>
<circle cx="75.7" cy="281.2" r="2.6" fill="url(#gB)"/>
<circle cx="56.7" cy="263.5" r="2.8" fill="url(#gG)"/>
<circle cx="67.8" cy="264.2" r="2.8" fill="url(#gG)"/>
<circle cx="73.7" cy="269.1" r="2.8" fill="url(#gG)"/>
<circle cx="85.5" cy="268.8" r="2.8" fill="url(#gG)"/>
<circle cx="94.7" cy="275.3" r="2.8" fill="url(#gG)"/>
<circle cx="89.4" cy="281.9" r="2.8" fill="url(#gG)"/>
<circle cx="69.1" cy="290.1" r="2.8" fill="url(#gG)"/>
<circle cx="54.0" cy="290.1" r="2.8" fill="url(#gG)"/>
<circle cx="48.8" cy="281.2" r="2.8" fill="url(#gG)"/>
<circle cx="33.7" cy="281.2" r="2.8" fill="url(#gG)"/>
<circle cx="29.1" cy="274.6" r="2.8" fill="url(#gG)"/>
<circle cx="38.3" cy="269.1" r="2.8" fill="url(#gG)"/>
<g stroke-linecap="round">
<line x1="163.8" y1="272.6" x2="158.2" y2="269.9" stroke="#3050a0" stroke-width="2.7"/>
<line x1="169.3" y1="275.4" x2="163.8" y2="272.6" stroke="#d8202a" stroke-width="2.7"/>
<line x1="176.2" y1="278.7" x2="183.1" y2="282.0" stroke="#3050a0" stroke-width="2.7"/>
<line x1="169.3" y1="275.4" x2="176.2" y2="278.7" stroke="#d8202a" stroke-width="2.7"/>
<line x1="175.2" y1="272.6" x2="181.1" y2="269.9" stroke="#a4a4a4" stroke-width="2.7"/>
<line x1="169.3" y1="275.4" x2="175.2" y2="272.6" stroke="#d8202a" stroke-width="2.7"/>
<line x1="162.8" y1="278.7" x2="156.2" y2="282.0" stroke="#a4a4a4" stroke-width="2.7"/>
<line x1="169.3" y1="275.4" x2="162.8" y2="278.7" stroke="#d8202a" stroke-width="2.7"/>
<line x1="158.2" y1="269.9" x2="164.1" y2="264.3" stroke="#a4a4a4" stroke-width="2.6"/>
<line x1="164.1" y1="264.3" x2="175.2" y2="265.0" stroke="#a4a4a4" stroke-width="2.6"/>
<line x1="175.2" y1="265.0" x2="181.1" y2="269.9" stroke="#a4a4a4" stroke-width="2.6"/>
<line x1="181.1" y1="269.9" x2="192.9" y2="269.6" stroke="#a4a4a4" stroke-width="2.6"/>
<line x1="192.9" y1="269.6" x2="202.1" y2="276.1" stroke="#a4a4a4" stroke-width="2.6"/>
<line x1="202.1" y1="276.1" x2="196.8" y2="282.7" stroke="#a4a4a4" stroke-width="2.6"/>
<line x1="196.8" y1="282.7" x2="183.1" y2="282.0" stroke="#a4a4a4" stroke-width="2.6"/>
<line x1="183.1" y1="282.0" x2="176.5" y2="290.9" stroke="#a4a4a4" stroke-width="2.6"/>
<line x1="176.5" y1="290.9" x2="161.4" y2="290.9" stroke="#a4a4a4" stroke-width="2.6"/>
<line x1="161.4" y1="290.9" x2="156.2" y2="282.0" stroke="#a4a4a4" stroke-width="2.6"/>
<line x1="156.2" y1="282.0" x2="141.1" y2="282.0" stroke="#a4a4a4" stroke-width="2.6"/>
<line x1="141.1" y1="282.0" x2="136.5" y2="275.4" stroke="#a4a4a4" stroke-width="2.6"/>
<line x1="136.5" y1="275.4" x2="145.7" y2="269.9" stroke="#a4a4a4" stroke-width="2.6"/>
<line x1="145.7" y1="269.9" x2="158.2" y2="269.9" stroke="#a4a4a4" stroke-width="2.6"/>
</g>
<line x1="169.3" y1="275.4" x2="169.3" y2="261.4" stroke="#a8a8a8" stroke-width="1.3" stroke-linecap="round"/>
<line x1="169.3" y1="261.4" x2="158.2" y2="269.9" stroke="#a8a8a8" stroke-width="1.3" stroke-linecap="round"/>
<line x1="169.3" y1="261.4" x2="181.1" y2="269.9" stroke="#a8a8a8" stroke-width="1.3" stroke-linecap="round"/>
<line x1="169.3" y1="261.4" x2="161.9" y2="256.5" stroke="#a8a8a8" stroke-width="1.8" stroke-linecap="round"/>
<line x1="169.3" y1="261.4" x2="177.5" y2="256.2" stroke="#a8a8a8" stroke-width="1.8" stroke-linecap="round"/>
<line x1="177.5" y1="256.2" x2="176.6" y2="248.3" stroke="#a8a8a8" stroke-width="1.2" stroke-linecap="round"/>
<circle cx="169.3" cy="261.4" r="2.7" fill="url(#gG)"/>
<circle cx="161.9" cy="256.5" r="2.8" fill="url(#gO)"/>
<circle cx="177.5" cy="256.2" r="2.8" fill="url(#gO)"/>
<circle cx="176.6" cy="248.3" r="1.6" fill="url(#gG)"/>
<circle cx="169.3" cy="275.4" r="4.1" fill="url(#gR)"/>
<circle cx="158.2" cy="269.9" r="2.6" fill="url(#gB)"/>
<circle cx="183.1" cy="282.0" r="2.6" fill="url(#gB)"/>
<circle cx="164.1" cy="264.3" r="2.8" fill="url(#gG)"/>
<circle cx="175.2" cy="265.0" r="2.8" fill="url(#gG)"/>
<circle cx="181.1" cy="269.9" r="2.8" fill="url(#gG)"/>
<circle cx="192.9" cy="269.6" r="2.8" fill="url(#gG)"/>
<circle cx="202.1" cy="276.1" r="2.8" fill="url(#gG)"/>
<circle cx="196.8" cy="282.7" r="2.8" fill="url(#gG)"/>
<circle cx="176.5" cy="290.9" r="2.8" fill="url(#gG)"/>
<circle cx="161.4" cy="290.9" r="2.8" fill="url(#gG)"/>
<circle cx="156.2" cy="282.0" r="2.8" fill="url(#gG)"/>
<circle cx="141.1" cy="282.0" r="2.8" fill="url(#gG)"/>
<circle cx="136.5" cy="275.4" r="2.8" fill="url(#gG)"/>
<circle cx="145.7" cy="269.9" r="2.8" fill="url(#gG)"/>
<path d="M131.1,180.8 L131.1,186.7 L106.8,186.7 L106.8,190.4 L100.2,183.8 L106.8,177.1 L106.8,180.8 L111.2,180.8 L111.2,175.6 L109,175.6 L113.4,170.9 L118.6,175.6 L115.6,175.6 L115.6,180.8 Z" fill="#5088c8"/>
<line x1="109.0" y1="166.1" x2="117.1" y2="166.1" stroke="#a8a8a8" stroke-width="1.8" stroke-linecap="round"/>
<circle cx="109.0" cy="166.1" r="2.6" fill="url(#gO)"/>
<circle cx="117.1" cy="166.1" r="2.5" fill="url(#gG)"/>
<path d="M58,204.1 L64.8,204.1 L64.8,243.4 L67.8,243.4 L61.2,249.2 L55.5,243.4 L58,243.4 Z" fill="#5088c8"/>
<line x1="52.2" y1="214.8" x2="52.2" y2="230.3" stroke="#a8a8a8" stroke-width="1.8" stroke-linecap="round"/>
<circle cx="52.2" cy="214.6" r="2.4" fill="url(#gO)"/>
<circle cx="52.2" cy="222.6" r="2.4" fill="url(#gG)"/>
<circle cx="52.2" cy="230.5" r="2.4" fill="url(#gO)"/>
<path d="M165.2,246 L172.1,246 L172.1,209.9 L175.1,209.9 L168.8,202.7 L162.5,209.9 L165.2,209.9 Z" fill="#5088c8"/>
<path d="M101.6,272.7 L127,272.7 L127,269.8 L132.7,275.5 L127,281.2 L127,278 L101.6,278 Z" fill="#5088c8"/>
<text x="153.5" y="228.8" style="font-size:9.00px;font-weight:bold" text-anchor="start" fill="#222" >H<tspan font-size="5.5" dy="-3.5">+</tspan></text>
<text x="174.2" y="228.8" style="font-size:9.00px;font-weight:bold" text-anchor="start" fill="#222" >e<tspan font-size="5.5" dy="-3.5">-</tspan></text>
<text x="113.0" y="270.2" style="font-size:8.60px;font-weight:bold" text-anchor="start" fill="#222" >H<tspan font-size="5.5" dy="-3.5">+</tspan></text>
<text x="113.9" y="287.8" style="font-size:8.60px;font-weight:bold" text-anchor="start" fill="#222" >e<tspan font-size="5.5" dy="-3.5">-</tspan></text>
<rect x="232.8" y="166.5" width="153.7" height="115.1" fill="none" stroke="#444" stroke-width="1.1"/>
<line x1="230.8" y1="270.3" x2="232.8" y2="270.3" stroke="#444" stroke-width="0.9"/>
<text x="229.4" y="272.8" style="font-size:7.00px;font-weight:bold" text-anchor="end" fill="#222" >0.0</text>
<line x1="230.8" y1="253.9" x2="232.8" y2="253.9" stroke="#444" stroke-width="0.9"/>
<text x="229.4" y="256.4" style="font-size:7.00px;font-weight:bold" text-anchor="end" fill="#222" >0.3</text>
<line x1="230.8" y1="237.4" x2="232.8" y2="237.4" stroke="#444" stroke-width="0.9"/>
<text x="229.4" y="239.9" style="font-size:7.00px;font-weight:bold" text-anchor="end" fill="#222" >0.6</text>
<line x1="230.8" y1="221.0" x2="232.8" y2="221.0" stroke="#444" stroke-width="0.9"/>
<text x="229.4" y="223.5" style="font-size:7.00px;font-weight:bold" text-anchor="end" fill="#222" >0.9</text>
<line x1="230.8" y1="204.5" x2="232.8" y2="204.5" stroke="#444" stroke-width="0.9"/>
<text x="229.4" y="207.0" style="font-size:7.00px;font-weight:bold" text-anchor="end" fill="#222" >1.2</text>
<line x1="230.8" y1="188.1" x2="232.8" y2="188.1" stroke="#444" stroke-width="0.9"/>
<text x="229.4" y="190.6" style="font-size:7.00px;font-weight:bold" text-anchor="end" fill="#222" >1.5</text>
<line x1="230.8" y1="171.7" x2="232.8" y2="171.7" stroke="#444" stroke-width="0.9"/>
<text x="229.4" y="174.2" style="font-size:7.00px;font-weight:bold" text-anchor="end" fill="#222" >1.8</text>
<text x="0" y="0" font-size="9.2" text-anchor="middle" transform="translate(214.2,220.2) rotate(-90)">ΔG (eV)</text>
<text class="L" x="240.3" y="186.6" style="font-size:21.5px">f</text>
<line x1="261.8" y1="270.1" x2="280.4" y2="175.8" stroke="#1a1a1a" stroke-width="1.0" stroke-dasharray="1.8,1.3"/>
<line x1="300.6" y1="175.8" x2="318.7" y2="210.8" stroke="#1a1a1a" stroke-width="1.0" stroke-dasharray="1.8,1.3"/>
<line x1="339.3" y1="210.8" x2="357.4" y2="237.7" stroke="#1a1a1a" stroke-width="1.0" stroke-dasharray="1.8,1.3"/>
<line x1="261.8" y1="270.1" x2="280.4" y2="190.5" stroke="#3a52a4" stroke-width="1.0" stroke-dasharray="1.8,1.3"/>
<line x1="300.6" y1="190.5" x2="318.7" y2="214.1" stroke="#3a52a4" stroke-width="1.0" stroke-dasharray="1.8,1.3"/>
<line x1="339.3" y1="214.1" x2="357.4" y2="237.7" stroke="#3a52a4" stroke-width="1.0" stroke-dasharray="1.8,1.3"/>
<line x1="261.8" y1="270.1" x2="280.4" y2="192.6" stroke="#e8242c" stroke-width="1.0" stroke-dasharray="1.8,1.3"/>
<line x1="300.6" y1="192.6" x2="318.7" y2="244.8" stroke="#e8242c" stroke-width="1.0" stroke-dasharray="1.8,1.3"/>
<line x1="339.3" y1="244.8" x2="357.4" y2="237.7" stroke="#e8242c" stroke-width="1.0" stroke-dasharray="1.8,1.3"/>
<line x1="242.2" y1="270.1" x2="261.8" y2="270.1" stroke="#1a1a1a" stroke-width="1.8"/>
<line x1="280.4" y1="175.8" x2="300.6" y2="175.8" stroke="#1a1a1a" stroke-width="1.8"/>
<line x1="318.7" y1="210.8" x2="339.3" y2="210.8" stroke="#1a1a1a" stroke-width="1.8"/>
<line x1="357.4" y1="237.7" x2="377.0" y2="237.7" stroke="#1a1a1a" stroke-width="1.8"/>
<line x1="242.2" y1="270.1" x2="261.8" y2="270.1" stroke="#3a52a4" stroke-width="1.8"/>
<line x1="280.4" y1="190.5" x2="300.6" y2="190.5" stroke="#3a52a4" stroke-width="1.8"/>
<line x1="318.7" y1="214.1" x2="339.3" y2="214.1" stroke="#3a52a4" stroke-width="1.8"/>
<line x1="357.4" y1="237.7" x2="377.0" y2="237.7" stroke="#3a52a4" stroke-width="1.8"/>
<line x1="242.2" y1="270.1" x2="261.8" y2="270.1" stroke="#e8242c" stroke-width="1.8"/>
<line x1="280.4" y1="192.6" x2="300.6" y2="192.6" stroke="#e8242c" stroke-width="1.8"/>
<line x1="318.7" y1="244.8" x2="339.3" y2="244.8" stroke="#e8242c" stroke-width="1.8"/>
<line x1="357.4" y1="237.7" x2="377.0" y2="237.7" stroke="#e8242c" stroke-width="1.8"/>
<line x1="242.2" y1="270.1" x2="261.8" y2="270.1" stroke="#1a1a1a" stroke-width="1.8"/>
<line x1="357.4" y1="237.7" x2="377.0" y2="237.7" stroke="#1a1a1a" stroke-width="1.8"/>
<text x="245.0" y="291.1" style="font-size:7.50px;font-weight:bold" text-anchor="start" fill="#222" >CO<tspan font-size="5.3" dy="2">2</tspan></text>
<text x="291.7" y="291.1" style="font-size:7.50px;font-weight:bold" text-anchor="middle" fill="#222" >COOH*</text>
<text x="330.5" y="291.1" style="font-size:7.50px;font-weight:bold" text-anchor="middle" fill="#222" >CO*</text>
<text x="368.4" y="291.1" style="font-size:7.50px;font-weight:bold" text-anchor="middle" fill="#222" >CO</text>
<line x1="330.2" y1="174.4" x2="344" y2="174.4" stroke="#1a1a1a" stroke-width="1.5"/>
<text x="346.0" y="177.2" style="font-size:7.80px;font-weight:bold" text-anchor="start" fill="#222" >Ni<tspan font-size="5.3" dy="1.8">SA</tspan><tspan dy="-1.8">-N</tspan><tspan font-size="5.3" dy="1.8">4</tspan><tspan dy="-1.8">-C</tspan></text>
<line x1="330.2" y1="186.4" x2="344" y2="186.4" stroke="#3a52a4" stroke-width="1.5"/>
<text x="346.0" y="189.2" style="font-size:7.80px;font-weight:bold" text-anchor="start" fill="#222" >Ni<tspan font-size="5.3" dy="1.8">SA</tspan><tspan dy="-1.8">-N</tspan><tspan font-size="5.3" dy="1.8">3</tspan><tspan dy="-1.8">-C</tspan></text>
<line x1="330.2" y1="199.0" x2="344" y2="199.0" stroke="#e8242c" stroke-width="1.5"/>
<text x="346.0" y="201.8" style="font-size:7.80px;font-weight:bold" text-anchor="start" fill="#222" >Ni<tspan font-size="5.3" dy="1.8">SA</tspan><tspan dy="-1.8">-N</tspan><tspan font-size="5.3" dy="1.8">2</tspan><tspan dy="-1.8">-C</tspan></text>
<rect x="416.6" y="160.0" width="155.8" height="122.5" fill="none" stroke="#444" stroke-width="1.1"/>
<line x1="414.4" y1="271.0" x2="416.6" y2="271.0" stroke="#444" stroke-width="0.9"/>
<text x="412.8" y="273.3" style="font-size:6.50px;font-weight:normal;stroke-width:0.1px" text-anchor="end" fill="#222" >-1</text>
<line x1="415.3" y1="258.6" x2="416.6" y2="258.6" stroke="#444" stroke-width="0.9"/>
<line x1="414.4" y1="246.2" x2="416.6" y2="246.2" stroke="#444" stroke-width="0.9"/>
<text x="412.8" y="248.5" style="font-size:6.50px;font-weight:normal;stroke-width:0.1px" text-anchor="end" fill="#222" >0</text>
<line x1="415.3" y1="233.8" x2="416.6" y2="233.8" stroke="#444" stroke-width="0.9"/>
<line x1="414.4" y1="221.4" x2="416.6" y2="221.4" stroke="#444" stroke-width="0.9"/>
<text x="412.8" y="223.7" style="font-size:6.50px;font-weight:normal;stroke-width:0.1px" text-anchor="end" fill="#222" >1</text>
<line x1="415.3" y1="209.0" x2="416.6" y2="209.0" stroke="#444" stroke-width="0.9"/>
<line x1="414.4" y1="196.6" x2="416.6" y2="196.6" stroke="#444" stroke-width="0.9"/>
<text x="412.8" y="198.9" style="font-size:6.50px;font-weight:normal;stroke-width:0.1px" text-anchor="end" fill="#222" >2</text>
<line x1="415.3" y1="184.2" x2="416.6" y2="184.2" stroke="#444" stroke-width="0.9"/>
<line x1="414.4" y1="171.8" x2="416.6" y2="171.8" stroke="#444" stroke-width="0.9"/>
<text x="412.8" y="174.1" style="font-size:6.50px;font-weight:normal;stroke-width:0.1px" text-anchor="end" fill="#222" >3</text>
<text x="0" y="0" style="font-size:8.6px;font-weight:normal" text-anchor="middle" transform="translate(400.6,217.7) rotate(-90)"><tspan font-style="italic">ΔG</tspan> (eV)</text>
<text class="L" x="427.3" y="178.9" style="font-size:20px">g</text>
<line x1="436.5" y1="246.2" x2="572" y2="246.2" stroke="#777" stroke-width="0.7" stroke-dasharray="1.2,1.3"/>
<line x1="503.9" y1="196.7" x2="514.7" y2="196.7" stroke="#999" stroke-width="0.8" stroke-dasharray="1.2,1.2"/>
<line x1="436.5" y1="246.2" x2="450.9" y2="236.3" stroke="#555" stroke-width="0.5"/>
<line x1="469.9" y1="236.3" x2="485.2" y2="196.7" stroke="#555" stroke-width="0.5"/>
<line x1="436.5" y1="246.2" x2="450.9" y2="238.9" stroke="#f07070" stroke-width="0.5"/>
<line x1="469.9" y1="238.9" x2="485.2" y2="214.6" stroke="#f07070" stroke-width="0.5"/>
<line x1="503.9" y1="214.6" x2="514.7" y2="198.6" stroke="#f07070" stroke-width="0.5"/>
<line x1="533.4" y1="198.6" x2="548.1" y2="186.5" stroke="#f07070" stroke-width="0.5"/>
<line x1="416.9" y1="246.2" x2="436.5" y2="246.2" stroke="#1a1a1a" stroke-width="1.6"/>
<line x1="450.9" y1="236.3" x2="469.9" y2="236.3" stroke="#1a1a1a" stroke-width="1.6"/>
<line x1="485.2" y1="196.7" x2="503.9" y2="196.7" stroke="#1a1a1a" stroke-width="1.6"/>
<line x1="514.7" y1="196.9" x2="533.4" y2="196.9" stroke="#1a1a1a" stroke-width="1.6"/>
<line x1="416.9" y1="246.2" x2="436.5" y2="246.2" stroke="#e8242c" stroke-width="1.6"/>
<line x1="450.9" y1="238.9" x2="469.9" y2="238.9" stroke="#e8242c" stroke-width="1.6"/>
<line x1="485.2" y1="214.6" x2="503.9" y2="214.6" stroke="#e8242c" stroke-width="1.6"/>
<line x1="514.7" y1="198.6" x2="533.4" y2="198.6" stroke="#e8242c" stroke-width="1.6"/>
<line x1="548.1" y1="186.5" x2="567.8" y2="186.5" stroke="#e8242c" stroke-width="1.6"/>
<g fill="none" stroke="#6a6a6a" stroke-width="0.65">
<polygon points="433.6,237.2 432.4,239.3 429.9,239.3 428.6,237.2 429.9,235.0 432.4,235.0"/>
<polygon points="429.9,239.3 428.6,241.5 426.1,241.5 424.9,239.3 426.1,237.2 428.6,237.2"/>
<polygon points="426.1,237.2 424.9,239.3 422.4,239.3 421.1,237.2 422.4,235.0 424.9,235.0"/>
<polygon points="426.1,232.8 424.9,235.0 422.4,235.0 421.1,232.8 422.4,230.7 424.9,230.7"/>
<polygon points="429.9,230.7 428.6,232.8 426.1,232.8 424.9,230.7 426.1,228.5 428.6,228.5"/>
<polygon points="433.6,232.8 432.4,235.0 429.9,235.0 428.6,232.8 429.9,230.7 432.4,230.7"/>
</g>
<g fill="#858585">
<circle cx="426.1" cy="241.5" r="0.75"/>
<circle cx="422.4" cy="239.3" r="0.75"/>
<circle cx="433.6" cy="232.8" r="0.75"/>
<circle cx="428.6" cy="228.5" r="0.75"/>
<circle cx="432.4" cy="235.0" r="0.75"/>
<circle cx="421.1" cy="237.2" r="0.75"/>
<circle cx="432.4" cy="230.7" r="0.75"/>
<circle cx="426.1" cy="228.5" r="0.75"/>
<circle cx="429.9" cy="235.0" r="0.75"/>
<circle cx="432.4" cy="239.3" r="0.75"/>
<circle cx="428.6" cy="232.8" r="0.75"/>
<circle cx="429.9" cy="230.7" r="0.75"/>
<circle cx="433.6" cy="237.2" r="0.75"/>
<circle cx="429.9" cy="239.3" r="0.75"/>
<circle cx="426.1" cy="232.8" r="0.75"/>
<circle cx="424.9" cy="235.0" r="0.75"/>
<circle cx="424.9" cy="230.7" r="0.75"/>
<circle cx="428.6" cy="237.2" r="0.75"/>
<circle cx="424.9" cy="239.3" r="0.75"/>
<circle cx="426.1" cy="237.2" r="0.75"/>
<circle cx="422.4" cy="235.0" r="0.75"/>
<circle cx="428.6" cy="241.5" r="0.75"/>
<circle cx="421.1" cy="232.8" r="0.75"/>
<circle cx="422.4" cy="230.7" r="0.75"/>
</g>
<circle cx="429.0" cy="236.6" r="0.8" fill="#3a50c0"/>
<circle cx="425.8" cy="236.6" r="0.8" fill="#3a50c0"/>
<circle cx="425.8" cy="233.4" r="0.8" fill="#3a50c0"/>
<circle cx="429.0" cy="233.4" r="0.8" fill="#3a50c0"/>
<circle cx="427.4" cy="235.0" r="0.9" fill="#e0604a"/>
<g fill="none" stroke="#6a6a6a" stroke-width="0.65">
<polygon points="433.8,258.8 432.5,260.9 430.0,260.9 428.8,258.8 430.0,256.6 432.5,256.6"/>
<polygon points="430.0,260.9 428.8,263.1 426.2,263.1 425.0,260.9 426.2,258.8 428.8,258.8"/>
<polygon points="426.2,258.8 425.0,260.9 422.5,260.9 421.2,258.8 422.5,256.6 425.0,256.6"/>
<polygon points="426.2,254.4 425.0,256.6 422.5,256.6 421.2,254.4 422.5,252.3 425.0,252.3"/>
<polygon points="430.0,252.3 428.8,254.4 426.2,254.4 425.0,252.3 426.2,250.1 428.8,250.1"/>
<polygon points="433.8,254.4 432.5,256.6 430.0,256.6 428.8,254.4 430.0,252.3 432.5,252.3"/>
</g>
<g fill="#858585">
<circle cx="428.8" cy="250.1" r="0.75"/>
<circle cx="432.5" cy="252.3" r="0.75"/>
<circle cx="426.2" cy="258.8" r="0.75"/>
<circle cx="430.0" cy="260.9" r="0.75"/>
<circle cx="432.5" cy="256.6" r="0.75"/>
<circle cx="428.8" cy="254.4" r="0.75"/>
<circle cx="425.0" cy="260.9" r="0.75"/>
<circle cx="421.2" cy="258.8" r="0.75"/>
<circle cx="426.2" cy="250.1" r="0.75"/>
<circle cx="433.8" cy="258.8" r="0.75"/>
<circle cx="430.0" cy="252.3" r="0.75"/>
<circle cx="422.5" cy="260.9" r="0.75"/>
<circle cx="428.8" cy="263.1" r="0.75"/>
<circle cx="425.0" cy="252.3" r="0.75"/>
<circle cx="430.0" cy="256.6" r="0.75"/>
<circle cx="426.2" cy="254.4" r="0.75"/>
<circle cx="428.8" cy="258.8" r="0.75"/>
<circle cx="422.5" cy="252.3" r="0.75"/>
<circle cx="425.0" cy="256.6" r="0.75"/>
<circle cx="432.5" cy="260.9" r="0.75"/>
<circle cx="422.5" cy="256.6" r="0.75"/>
<circle cx="421.2" cy="254.4" r="0.75"/>
<circle cx="426.2" cy="263.1" r="0.75"/>
<circle cx="433.8" cy="254.4" r="0.75"/>
</g>
<line x1="424.7" y1="259.4" x2="430.3" y2="253.8" stroke="#e04040" stroke-width="0.8"/>
<circle cx="424.7" cy="259.4" r="0.8" fill="#3a50c0"/>
<circle cx="430.5" cy="255.4" r="0.8" fill="#3a50c0"/>
<circle cx="427.5" cy="256.6" r="0.9" fill="#e0604a"/>
<g fill="none" stroke="#6a6a6a" stroke-width="0.65">
<polygon points="468.2,225.8 467.0,227.9 464.5,227.9 463.2,225.8 464.5,223.6 467.0,223.6"/>
<polygon points="464.5,227.9 463.2,230.1 460.8,230.1 459.5,227.9 460.8,225.8 463.2,225.8"/>
<polygon points="460.8,225.8 459.5,227.9 457.0,227.9 455.8,225.8 457.0,223.6 459.5,223.6"/>
<polygon points="460.8,221.4 459.5,223.6 457.0,223.6 455.8,221.4 457.0,219.3 459.5,219.3"/>
<polygon points="464.5,219.3 463.2,221.4 460.8,221.4 459.5,219.3 460.8,217.1 463.2,217.1"/>
<polygon points="468.2,221.4 467.0,223.6 464.5,223.6 463.2,221.4 464.5,219.3 467.0,219.3"/>
</g>
<g fill="#858585">
<circle cx="460.8" cy="230.1" r="0.75"/>
<circle cx="463.2" cy="225.8" r="0.75"/>
<circle cx="459.5" cy="223.6" r="0.75"/>
<circle cx="463.2" cy="230.1" r="0.75"/>
<circle cx="455.8" cy="225.8" r="0.75"/>
<circle cx="457.0" cy="223.6" r="0.75"/>
<circle cx="464.5" cy="219.3" r="0.75"/>
<circle cx="460.8" cy="217.1" r="0.75"/>
<circle cx="459.5" cy="227.9" r="0.75"/>
<circle cx="467.0" cy="219.3" r="0.75"/>
<circle cx="468.2" cy="221.4" r="0.75"/>
<circle cx="457.0" cy="227.9" r="0.75"/>
<circle cx="463.2" cy="217.1" r="0.75"/>
<circle cx="460.8" cy="221.4" r="0.75"/>
<circle cx="464.5" cy="223.6" r="0.75"/>
<circle cx="463.2" cy="221.4" r="0.75"/>
<circle cx="459.5" cy="219.3" r="0.75"/>
<circle cx="467.0" cy="223.6" r="0.75"/>
<circle cx="455.8" cy="221.4" r="0.75"/>
<circle cx="457.0" cy="219.3" r="0.75"/>
<circle cx="468.2" cy="225.8" r="0.75"/>
<circle cx="464.5" cy="227.9" r="0.75"/>
<circle cx="467.0" cy="227.9" r="0.75"/>
<circle cx="460.8" cy="225.8" r="0.75"/>
</g>
<circle cx="463.6" cy="225.2" r="0.8" fill="#3a50c0"/>
<circle cx="460.4" cy="225.2" r="0.8" fill="#3a50c0"/>
<circle cx="460.4" cy="222.0" r="0.8" fill="#3a50c0"/>
<circle cx="463.6" cy="222.0" r="0.8" fill="#3a50c0"/>
<circle cx="462.0" cy="223.6" r="0.9" fill="#e0604a"/>
<g fill="none" stroke="#6a6a6a" stroke-width="0.65">
<polygon points="467.4,257.6 466.2,259.7 463.7,259.7 462.4,257.6 463.7,255.4 466.2,255.4"/>
<polygon points="463.7,259.7 462.4,261.9 459.9,261.9 458.7,259.7 459.9,257.6 462.4,257.6"/>
<polygon points="459.9,257.6 458.7,259.7 456.2,259.7 454.9,257.6 456.2,255.4 458.7,255.4"/>
<polygon points="459.9,253.2 458.7,255.4 456.2,255.4 454.9,253.2 456.2,251.1 458.7,251.1"/>
<polygon points="463.7,251.1 462.4,253.2 459.9,253.2 458.7,251.1 459.9,248.9 462.4,248.9"/>
<polygon points="467.4,253.2 466.2,255.4 463.7,255.4 462.4,253.2 463.7,251.1 466.2,251.1"/>
</g>
<g fill="#858585">
<circle cx="462.4" cy="261.9" r="0.75"/>
<circle cx="466.2" cy="255.4" r="0.75"/>
<circle cx="462.4" cy="248.9" r="0.75"/>
<circle cx="456.2" cy="259.7" r="0.75"/>
<circle cx="459.9" cy="261.9" r="0.75"/>
<circle cx="467.4" cy="257.6" r="0.75"/>
<circle cx="463.7" cy="255.4" r="0.75"/>
<circle cx="462.4" cy="253.2" r="0.75"/>
<circle cx="458.7" cy="251.1" r="0.75"/>
<circle cx="459.9" cy="248.9" r="0.75"/>
<circle cx="459.9" cy="253.2" r="0.75"/>
<circle cx="454.9" cy="253.2" r="0.75"/>
<circle cx="466.2" cy="259.7" r="0.75"/>
<circle cx="458.7" cy="255.4" r="0.75"/>
<circle cx="462.4" cy="257.6" r="0.75"/>
<circle cx="456.2" cy="251.1" r="0.75"/>
<circle cx="463.7" cy="259.7" r="0.75"/>
<circle cx="459.9" cy="257.6" r="0.75"/>
<circle cx="456.2" cy="255.4" r="0.75"/>
<circle cx="454.9" cy="257.6" r="0.75"/>
<circle cx="466.2" cy="251.1" r="0.75"/>
<circle cx="458.7" cy="259.7" r="0.75"/>
<circle cx="467.4" cy="253.2" r="0.75"/>
<circle cx="463.7" cy="251.1" r="0.75"/>
</g>
<line x1="458.4" y1="258.2" x2="464.0" y2="252.6" stroke="#e04040" stroke-width="0.8"/>
<circle cx="458.4" cy="258.2" r="0.8" fill="#3a50c0"/>
<circle cx="464.2" cy="254.2" r="0.8" fill="#3a50c0"/>
<circle cx="461.2" cy="255.4" r="0.9" fill="#e0604a"/>
<g fill="none" stroke="#6a6a6a" stroke-width="0.65">
<polygon points="502.2,187.7 501.0,189.8 498.5,189.8 497.2,187.7 498.5,185.5 501.0,185.5"/>
<polygon points="498.5,189.8 497.2,192.0 494.8,192.0 493.5,189.8 494.8,187.7 497.2,187.7"/>
<polygon points="494.8,187.7 493.5,189.8 491.0,189.8 489.8,187.7 491.0,185.5 493.5,185.5"/>
<polygon points="494.8,183.3 493.5,185.5 491.0,185.5 489.8,183.3 491.0,181.2 493.5,181.2"/>
<polygon points="498.5,181.2 497.2,183.3 494.8,183.3 493.5,181.2 494.8,179.0 497.2,179.0"/>
<polygon points="502.2,183.3 501.0,185.5 498.5,185.5 497.2,183.3 498.5,181.2 501.0,181.2"/>
</g>
<g fill="#858585">
<circle cx="497.2" cy="187.7" r="0.75"/>
<circle cx="494.8" cy="179.0" r="0.75"/>
<circle cx="493.5" cy="189.8" r="0.75"/>
<circle cx="502.2" cy="183.3" r="0.75"/>
<circle cx="489.8" cy="187.7" r="0.75"/>
<circle cx="497.2" cy="179.0" r="0.75"/>
<circle cx="491.0" cy="189.8" r="0.75"/>
<circle cx="498.5" cy="181.2" r="0.75"/>
<circle cx="501.0" cy="181.2" r="0.75"/>
<circle cx="494.8" cy="183.3" r="0.75"/>
<circle cx="497.2" cy="183.3" r="0.75"/>
<circle cx="501.0" cy="185.5" r="0.75"/>
<circle cx="498.5" cy="185.5" r="0.75"/>
<circle cx="489.8" cy="183.3" r="0.75"/>
<circle cx="493.5" cy="181.2" r="0.75"/>
<circle cx="498.5" cy="189.8" r="0.75"/>
<circle cx="501.0" cy="189.8" r="0.75"/>
<circle cx="491.0" cy="181.2" r="0.75"/>
<circle cx="494.8" cy="192.0" r="0.75"/>
<circle cx="502.2" cy="187.7" r="0.75"/>
<circle cx="493.5" cy="185.5" r="0.75"/>
<circle cx="494.8" cy="187.7" r="0.75"/>
<circle cx="497.2" cy="192.0" r="0.75"/>
<circle cx="491.0" cy="185.5" r="0.75"/>
</g>
<circle cx="497.6" cy="187.1" r="0.8" fill="#3a50c0"/>
<circle cx="494.4" cy="187.1" r="0.8" fill="#3a50c0"/>
<circle cx="494.4" cy="183.9" r="0.8" fill="#3a50c0"/>
<circle cx="497.6" cy="183.9" r="0.8" fill="#3a50c0"/>
<circle cx="496.0" cy="185.5" r="0.9" fill="#e0604a"/>
<g fill="none" stroke="#6a6a6a" stroke-width="0.65">
<polygon points="500.9,228.2 499.7,230.3 497.2,230.3 495.9,228.2 497.2,226.0 499.7,226.0"/>
<polygon points="497.2,230.3 495.9,232.5 493.4,232.5 492.2,230.3 493.4,228.2 495.9,228.2"/>
<polygon points="493.4,228.2 492.2,230.3 489.7,230.3 488.4,228.2 489.7,226.0 492.2,226.0"/>
<polygon points="493.4,223.8 492.2,226.0 489.7,226.0 488.4,223.8 489.7,221.7 492.2,221.7"/>
<polygon points="497.2,221.7 495.9,223.8 493.4,223.8 492.2,221.7 493.4,219.5 495.9,219.5"/>
<polygon points="500.9,223.8 499.7,226.0 497.2,226.0 495.9,223.8 497.2,221.7 499.7,221.7"/>
</g>
<g fill="#858585">
<circle cx="493.4" cy="223.8" r="0.75"/>
<circle cx="492.2" cy="226.0" r="0.75"/>
<circle cx="495.9" cy="228.2" r="0.75"/>
<circle cx="492.2" cy="221.7" r="0.75"/>
<circle cx="489.7" cy="226.0" r="0.75"/>
<circle cx="492.2" cy="230.3" r="0.75"/>
<circle cx="489.7" cy="221.7" r="0.75"/>
<circle cx="488.4" cy="223.8" r="0.75"/>
<circle cx="495.9" cy="232.5" r="0.75"/>
<circle cx="493.4" cy="228.2" r="0.75"/>
<circle cx="489.7" cy="230.3" r="0.75"/>
<circle cx="499.7" cy="226.0" r="0.75"/>
<circle cx="500.9" cy="223.8" r="0.75"/>
<circle cx="495.9" cy="219.5" r="0.75"/>
<circle cx="493.4" cy="232.5" r="0.75"/>
<circle cx="488.4" cy="228.2" r="0.75"/>
<circle cx="499.7" cy="221.7" r="0.75"/>
<circle cx="499.7" cy="230.3" r="0.75"/>
<circle cx="495.9" cy="223.8" r="0.75"/>
<circle cx="497.2" cy="226.0" r="0.75"/>
<circle cx="493.4" cy="219.5" r="0.75"/>
<circle cx="500.9" cy="228.2" r="0.75"/>
<circle cx="497.2" cy="221.7" r="0.75"/>
<circle cx="497.2" cy="230.3" r="0.75"/>
</g>
<line x1="491.9" y1="228.8" x2="497.5" y2="223.2" stroke="#e04040" stroke-width="0.8"/>
<circle cx="491.9" cy="228.8" r="0.8" fill="#3a50c0"/>
<circle cx="497.7" cy="224.8" r="0.8" fill="#3a50c0"/>
<circle cx="494.7" cy="226.0" r="0.9" fill="#e0604a"/>
<g fill="none" stroke="#6a6a6a" stroke-width="0.65">
<polygon points="533.0,188.3 531.8,190.4 529.3,190.4 528.0,188.3 529.3,186.1 531.8,186.1"/>
<polygon points="529.3,190.4 528.0,192.6 525.5,192.6 524.3,190.4 525.5,188.3 528.0,188.3"/>
<polygon points="525.5,188.3 524.3,190.4 521.8,190.4 520.5,188.3 521.8,186.1 524.3,186.1"/>
<polygon points="525.5,183.9 524.3,186.1 521.8,186.1 520.5,183.9 521.8,181.8 524.3,181.8"/>
<polygon points="529.3,181.8 528.0,183.9 525.5,183.9 524.3,181.8 525.5,179.6 528.0,179.6"/>
<polygon points="533.0,183.9 531.8,186.1 529.3,186.1 528.0,183.9 529.3,181.8 531.8,181.8"/>
</g>
<g fill="#858585">
<circle cx="521.8" cy="190.4" r="0.75"/>
<circle cx="520.5" cy="183.9" r="0.75"/>
<circle cx="528.0" cy="192.6" r="0.75"/>
<circle cx="520.5" cy="188.3" r="0.75"/>
<circle cx="524.3" cy="190.4" r="0.75"/>
<circle cx="525.5" cy="192.6" r="0.75"/>
<circle cx="533.0" cy="183.9" r="0.75"/>
<circle cx="531.8" cy="181.8" r="0.75"/>
<circle cx="528.0" cy="179.6" r="0.75"/>
<circle cx="531.8" cy="186.1" r="0.75"/>
<circle cx="533.0" cy="188.3" r="0.75"/>
<circle cx="529.3" cy="181.8" r="0.75"/>
<circle cx="525.5" cy="179.6" r="0.75"/>
<circle cx="529.3" cy="186.1" r="0.75"/>
<circle cx="531.8" cy="190.4" r="0.75"/>
<circle cx="528.0" cy="183.9" r="0.75"/>
<circle cx="528.0" cy="188.3" r="0.75"/>
<circle cx="529.3" cy="190.4" r="0.75"/>
<circle cx="521.8" cy="181.8" r="0.75"/>
<circle cx="525.5" cy="183.9" r="0.75"/>
<circle cx="521.8" cy="186.1" r="0.75"/>
<circle cx="525.5" cy="188.3" r="0.75"/>
<circle cx="524.3" cy="181.8" r="0.75"/>
<circle cx="524.3" cy="186.1" r="0.75"/>
</g>
<circle cx="528.4" cy="187.7" r="0.8" fill="#3a50c0"/>
<circle cx="525.2" cy="187.7" r="0.8" fill="#3a50c0"/>
<circle cx="525.2" cy="184.5" r="0.8" fill="#3a50c0"/>
<circle cx="528.4" cy="184.5" r="0.8" fill="#3a50c0"/>
<circle cx="526.8" cy="186.1" r="0.9" fill="#e0604a"/>
<g fill="none" stroke="#6a6a6a" stroke-width="0.65">
<polygon points="533.0,211.9 531.8,214.0 529.3,214.0 528.0,211.9 529.3,209.7 531.8,209.7"/>
<polygon points="529.3,214.0 528.0,216.2 525.5,216.2 524.3,214.0 525.5,211.9 528.0,211.9"/>
<polygon points="525.5,211.9 524.3,214.0 521.8,214.0 520.5,211.9 521.8,209.7 524.3,209.7"/>
<polygon points="525.5,207.5 524.3,209.7 521.8,209.7 520.5,207.5 521.8,205.4 524.3,205.4"/>
<polygon points="529.3,205.4 528.0,207.5 525.5,207.5 524.3,205.4 525.5,203.2 528.0,203.2"/>
<polygon points="533.0,207.5 531.8,209.7 529.3,209.7 528.0,207.5 529.3,205.4 531.8,205.4"/>
</g>
<g fill="#858585">
<circle cx="528.0" cy="207.5" r="0.75"/>
<circle cx="531.8" cy="214.0" r="0.75"/>
<circle cx="531.8" cy="209.7" r="0.75"/>
<circle cx="521.8" cy="205.4" r="0.75"/>
<circle cx="525.5" cy="207.5" r="0.75"/>
<circle cx="529.3" cy="214.0" r="0.75"/>
<circle cx="533.0" cy="211.9" r="0.75"/>
<circle cx="529.3" cy="209.7" r="0.75"/>
<circle cx="524.3" cy="205.4" r="0.75"/>
<circle cx="521.8" cy="214.0" r="0.75"/>
<circle cx="520.5" cy="207.5" r="0.75"/>
<circle cx="528.0" cy="211.9" r="0.75"/>
<circle cx="521.8" cy="209.7" r="0.75"/>
<circle cx="528.0" cy="216.2" r="0.75"/>
<circle cx="524.3" cy="214.0" r="0.75"/>
<circle cx="525.5" cy="211.9" r="0.75"/>
<circle cx="524.3" cy="209.7" r="0.75"/>
<circle cx="525.5" cy="216.2" r="0.75"/>
<circle cx="533.0" cy="207.5" r="0.75"/>
<circle cx="531.8" cy="205.4" r="0.75"/>
<circle cx="528.0" cy="203.2" r="0.75"/>
<circle cx="520.5" cy="211.9" r="0.75"/>
<circle cx="529.3" cy="205.4" r="0.75"/>
<circle cx="525.5" cy="203.2" r="0.75"/>
</g>
<line x1="524.0" y1="212.5" x2="529.6" y2="206.9" stroke="#e04040" stroke-width="0.8"/>
<circle cx="524.0" cy="212.5" r="0.8" fill="#3a50c0"/>
<circle cx="529.8" cy="208.5" r="0.8" fill="#3a50c0"/>
<circle cx="526.8" cy="209.7" r="0.9" fill="#e0604a"/>
<g fill="none" stroke="#6a6a6a" stroke-width="0.65">
<polygon points="564.2,177.9 563.0,180.0 560.5,180.0 559.2,177.9 560.5,175.7 563.0,175.7"/>
<polygon points="560.5,180.0 559.2,182.2 556.8,182.2 555.5,180.0 556.8,177.9 559.2,177.9"/>
<polygon points="556.8,177.9 555.5,180.0 553.0,180.0 551.8,177.9 553.0,175.7 555.5,175.7"/>
<polygon points="556.8,173.5 555.5,175.7 553.0,175.7 551.8,173.5 553.0,171.4 555.5,171.4"/>
<polygon points="560.5,171.4 559.2,173.5 556.8,173.5 555.5,171.4 556.8,169.2 559.2,169.2"/>
<polygon points="564.2,173.5 563.0,175.7 560.5,175.7 559.2,173.5 560.5,171.4 563.0,171.4"/>
</g>
<g fill="#858585">
<circle cx="560.5" cy="175.7" r="0.75"/>
<circle cx="563.0" cy="180.0" r="0.75"/>
<circle cx="555.5" cy="171.4" r="0.75"/>
<circle cx="564.2" cy="177.9" r="0.75"/>
<circle cx="556.8" cy="173.5" r="0.75"/>
<circle cx="553.0" cy="171.4" r="0.75"/>
<circle cx="563.0" cy="175.7" r="0.75"/>
<circle cx="559.2" cy="177.9" r="0.75"/>
<circle cx="559.2" cy="182.2" r="0.75"/>
<circle cx="555.5" cy="180.0" r="0.75"/>
<circle cx="551.8" cy="173.5" r="0.75"/>
<circle cx="553.0" cy="180.0" r="0.75"/>
<circle cx="555.5" cy="175.7" r="0.75"/>
<circle cx="559.2" cy="169.2" r="0.75"/>
<circle cx="556.8" cy="177.9" r="0.75"/>
<circle cx="556.8" cy="182.2" r="0.75"/>
<circle cx="553.0" cy="175.7" r="0.75"/>
<circle cx="560.5" cy="171.4" r="0.75"/>
<circle cx="564.2" cy="173.5" r="0.75"/>
<circle cx="559.2" cy="173.5" r="0.75"/>
<circle cx="551.8" cy="177.9" r="0.75"/>
<circle cx="563.0" cy="171.4" r="0.75"/>
<circle cx="556.8" cy="169.2" r="0.75"/>
<circle cx="560.5" cy="180.0" r="0.75"/>
</g>
<circle cx="559.6" cy="177.3" r="0.8" fill="#3a50c0"/>
<circle cx="556.4" cy="177.3" r="0.8" fill="#3a50c0"/>
<circle cx="556.4" cy="174.1" r="0.8" fill="#3a50c0"/>
<circle cx="559.6" cy="174.1" r="0.8" fill="#3a50c0"/>
<circle cx="558.0" cy="175.7" r="0.9" fill="#e0604a"/>
<g fill="none" stroke="#6a6a6a" stroke-width="0.65">
<polygon points="564.2,198.5 563.0,200.6 560.5,200.6 559.2,198.5 560.5,196.3 563.0,196.3"/>
<polygon points="560.5,200.6 559.2,202.8 556.8,202.8 555.5,200.6 556.8,198.5 559.2,198.5"/>
<polygon points="556.8,198.5 555.5,200.6 553.0,200.6 551.8,198.5 553.0,196.3 555.5,196.3"/>
<polygon points="556.8,194.1 555.5,196.3 553.0,196.3 551.8,194.1 553.0,192.0 555.5,192.0"/>
<polygon points="560.5,192.0 559.2,194.1 556.8,194.1 555.5,192.0 556.8,189.8 559.2,189.8"/>
<polygon points="564.2,194.1 563.0,196.3 560.5,196.3 559.2,194.1 560.5,192.0 563.0,192.0"/>
</g>
<g fill="#858585">
<circle cx="559.2" cy="189.8" r="0.75"/>
<circle cx="556.8" cy="202.8" r="0.75"/>
<circle cx="553.0" cy="200.6" r="0.75"/>
<circle cx="551.8" cy="198.5" r="0.75"/>
<circle cx="559.2" cy="194.1" r="0.75"/>
<circle cx="564.2" cy="194.1" r="0.75"/>
<circle cx="563.0" cy="192.0" r="0.75"/>
<circle cx="560.5" cy="196.3" r="0.75"/>
<circle cx="556.8" cy="189.8" r="0.75"/>
<circle cx="563.0" cy="196.3" r="0.75"/>
<circle cx="555.5" cy="192.0" r="0.75"/>
<circle cx="556.8" cy="194.1" r="0.75"/>
<circle cx="564.2" cy="198.5" r="0.75"/>
<circle cx="553.0" cy="192.0" r="0.75"/>
<circle cx="559.2" cy="198.5" r="0.75"/>
<circle cx="560.5" cy="200.6" r="0.75"/>
<circle cx="555.5" cy="196.3" r="0.75"/>
<circle cx="551.8" cy="194.1" r="0.75"/>
<circle cx="553.0" cy="196.3" r="0.75"/>
<circle cx="563.0" cy="200.6" r="0.75"/>
<circle cx="559.2" cy="202.8" r="0.75"/>
<circle cx="556.8" cy="198.5" r="0.75"/>
<circle cx="560.5" cy="192.0" r="0.75"/>
<circle cx="555.5" cy="200.6" r="0.75"/>
</g>
<line x1="555.2" y1="199.1" x2="560.8" y2="193.5" stroke="#e04040" stroke-width="0.8"/>
<circle cx="555.2" cy="199.1" r="0.8" fill="#3a50c0"/>
<circle cx="561.0" cy="195.1" r="0.8" fill="#3a50c0"/>
<circle cx="558.0" cy="196.3" r="0.9" fill="#e0604a"/>
<circle cx="462.5" cy="220.5" r="1.0" fill="#e02020"/>
<circle cx="461.5" cy="252.3" r="1.0" fill="#e02020"/>
<circle cx="496.0" cy="182.5" r="1.0" fill="#e02020"/>
<circle cx="494.0" cy="222.8" r="1.0" fill="#e02020"/>
<circle cx="526.8" cy="182.4" r="1.0" fill="#e02020"/>
<circle cx="525.3" cy="205.7" r="1.0" fill="#e02020"/>
<text x="427.5" y="270.8" style="font-size:6.50px;font-weight:bold" text-anchor="middle" fill="#222" >*</text>
<text x="455.8" y="271.3" style="font-size:6.50px;font-weight:bold" text-anchor="start" fill="#222" >*CO<tspan font-size="4.5" dy="1.5">2</tspan></text>
<text x="497.2" y="241.5" style="font-size:6.50px;font-weight:bold" text-anchor="middle" fill="#222" >*COOH</text>
<text x="527.2" y="227.5" style="font-size:6.50px;font-weight:bold" text-anchor="middle" fill="#222" >*CO</text>
<text x="558.2" y="212.5" style="font-size:6.50px;font-weight:bold" text-anchor="middle" fill="#222" >*</text>
<text x="551.2" y="277.2" style="font-size:7.00px;font-weight:normal;stroke-width:0.1px" text-anchor="middle" fill="#222" >pH = 6.8</text>
<text x="494.4" y="299.7" style="font-size:8.50px;font-weight:normal;stroke-width:0.1px" text-anchor="middle" fill="#222" >Reaction Path</text>
<rect x="444.7" y="167.6" width="2.6" height="2.6" fill="#111"/>
<rect x="444.7" y="177.9" width="2.6" height="2.6" fill="#e02020"/>
<text x="451.8" y="171.6" style="font-size:6.60px;font-weight:normal;stroke-width:0.1px" text-anchor="start" fill="#222" >Cu-N<tspan font-size="4.2" dy="2">4</tspan></text>
<text x="451.8" y="182.0" style="font-size:6.60px;font-weight:normal;stroke-width:0.1px" text-anchor="start" fill="#222" >Cu-N<tspan font-size="4.2" dy="2">2</tspan></text>
<rect x="608.1" y="160.5" width="155.3" height="122.3" fill="none" stroke="#444" stroke-width="1.1"/>
<line x1="605.9" y1="283.6" x2="608.1" y2="283.6" stroke="#444" stroke-width="0.9"/>
<text x="604.0" y="285.9" style="font-size:6.50px;font-weight:normal;stroke-width:0.1px" text-anchor="end" fill="#222" >-2</text>
<line x1="606.8" y1="263.0" x2="608.1" y2="263.0" stroke="#444" stroke-width="0.9"/>
<line x1="605.9" y1="242.4" x2="608.1" y2="242.4" stroke="#444" stroke-width="0.9"/>
<text x="604.0" y="244.7" style="font-size:6.50px;font-weight:normal;stroke-width:0.1px" text-anchor="end" fill="#222" >-1</text>
<line x1="606.8" y1="221.8" x2="608.1" y2="221.8" stroke="#444" stroke-width="0.9"/>
<line x1="605.9" y1="201.2" x2="608.1" y2="201.2" stroke="#444" stroke-width="0.9"/>
<text x="604.0" y="203.5" style="font-size:6.50px;font-weight:normal;stroke-width:0.1px" text-anchor="end" fill="#222" >0</text>
<line x1="606.8" y1="180.6" x2="608.1" y2="180.6" stroke="#444" stroke-width="0.9"/>
<line x1="605.9" y1="160.0" x2="608.1" y2="160.0" stroke="#444" stroke-width="0.9"/>
<text x="604.0" y="162.3" style="font-size:6.50px;font-weight:normal;stroke-width:0.1px" text-anchor="end" fill="#222" >1</text>
<text x="0" y="0" style="font-size:8.6px;font-weight:normal" text-anchor="middle" transform="translate(590.8,217.5) rotate(-90)"><tspan font-style="italic">ΔG</tspan> (eV)</text>
<text class="L" x="619" y="179.3">h</text>
<line x1="627.6" y1="201.2" x2="763" y2="201.2" stroke="#666" stroke-width="0.7" stroke-dasharray="1.2,1.3"/>
<line x1="627.6" y1="201.2" x2="643.8" y2="225.8" stroke="#444" stroke-width="0.55"/>
<line x1="663.0" y1="225.8" x2="675.9" y2="200.4" stroke="#444" stroke-width="0.55"/>
<line x1="694.6" y1="200.4" x2="706.6" y2="241.9" stroke="#444" stroke-width="0.55"/>
<line x1="725.5" y1="241.9" x2="738.3" y2="266.0" stroke="#444" stroke-width="0.55"/>
<line x1="627.6" y1="201.2" x2="644.4" y2="215.6" stroke="#f06060" stroke-width="0.55"/>
<line x1="663.0" y1="215.6" x2="675.9" y2="202.0" stroke="#f06060" stroke-width="0.55"/>
<line x1="694.6" y1="202.0" x2="705.5" y2="200.5" stroke="#f06060" stroke-width="0.55"/>
<line x1="724.5" y1="200.5" x2="738.3" y2="206.7" stroke="#f06060" stroke-width="0.55"/>
<line x1="608.1" y1="201.2" x2="627.6" y2="201.2" stroke="#1a1a1a" stroke-width="1.7"/>
<line x1="643.8" y1="225.8" x2="663.0" y2="225.8" stroke="#1a1a1a" stroke-width="1.7"/>
<line x1="675.9" y1="200.4" x2="694.6" y2="200.4" stroke="#1a1a1a" stroke-width="2.4"/>
<line x1="706.6" y1="241.9" x2="725.5" y2="241.9" stroke="#1a1a1a" stroke-width="1.7"/>
<line x1="738.3" y1="266.0" x2="757.2" y2="266.0" stroke="#1a1a1a" stroke-width="1.7"/>
<line x1="608.1" y1="201.2" x2="627.6" y2="201.2" stroke="#e8242c" stroke-width="1.7"/>
<line x1="644.4" y1="215.6" x2="663.0" y2="215.6" stroke="#e8242c" stroke-width="1.7"/>
<line x1="675.9" y1="202.0" x2="694.6" y2="202.0" stroke="#e8242c" stroke-width="1.7"/>
<line x1="705.5" y1="200.5" x2="724.5" y2="200.5" stroke="#e8242c" stroke-width="1.7"/>
<line x1="738.3" y1="206.7" x2="756.6" y2="206.7" stroke="#e8242c" stroke-width="1.7"/>
<text x="617.8" y="208.0" style="font-size:6.50px;font-weight:bold" text-anchor="middle" fill="#222" >*</text>
<text x="647.3" y="235.3" style="font-size:7.60px;font-weight:bold" text-anchor="start" fill="#222" >*CO<tspan font-size="5" dy="1.8">2</tspan></text>
<text x="685.7" y="212.0" style="font-size:7.60px;font-weight:bold" text-anchor="middle" fill="#222" >*COOH</text>
<text x="717.0" y="251.3" style="font-size:6.80px;font-weight:bold" text-anchor="middle" fill="#222" >*CO</text>
<text x="747.6" y="274.3" style="font-size:6.50px;font-weight:bold" text-anchor="middle" fill="#222" >*</text>
<text x="718.1" y="278.4" style="font-size:7.00px;font-weight:normal;stroke-width:0.1px" text-anchor="middle" fill="#222" >pH = 6.8</text>
<text x="685.6" y="299.8" style="font-size:8.50px;font-weight:normal;stroke-width:0.1px" text-anchor="middle" fill="#222" >Reaction Path</text>
<rect x="647.3" y="169.8" width="2.6" height="2.6" fill="#111"/>
<rect x="647.3" y="180.5" width="2.6" height="2.6" fill="#e02020"/>
<text x="656.0" y="172.8" style="font-size:6.50px;font-weight:normal;stroke-width:0.1px" text-anchor="start" fill="#222" >Cu-N<tspan font-size="4.2" dy="2">4</tspan><tspan dy="-2"> under U = 1.00 V</tspan></text>
<text x="656.0" y="183.7" style="font-size:6.50px;font-weight:normal;stroke-width:0.1px" text-anchor="start" fill="#222" >Cu-N<tspan font-size="4.2" dy="2">2</tspan><tspan dy="-2"> under U = 0.64 V</tspan></text>
</svg>
</body></html>
